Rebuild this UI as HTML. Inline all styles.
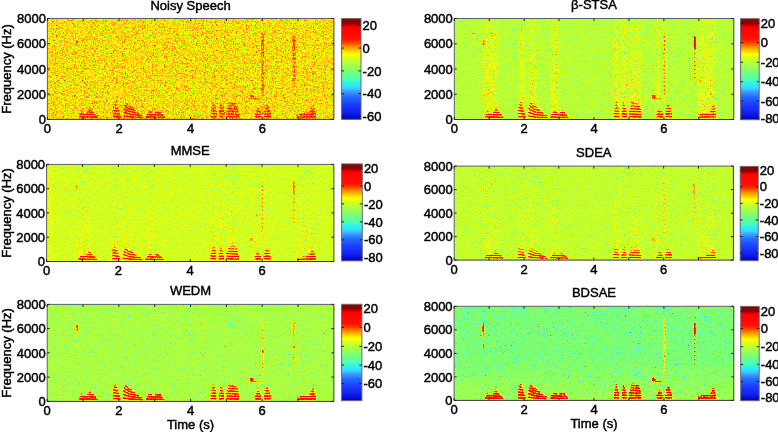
<!DOCTYPE html><html><head><meta charset="utf-8"><title>Spectrograms</title><style>html,body{margin:0;padding:0;background:#fff;}body{width:778px;height:432px;overflow:hidden;}svg{display:block}text{font-family:'Liberation Sans', Arial, Helvetica, sans-serif;font-size:13px;fill:#000;stroke:#000;stroke-width:0.45px}</style></head><body>
<svg width="778" height="432" viewBox="0 0 778 432">
<defs><linearGradient id="cbg" x1="0" y1="0" x2="0" y2="1"><stop offset="0.0" stop-color="rgb(136,0,0)"/><stop offset="0.045" stop-color="rgb(144,0,0)"/><stop offset="0.065" stop-color="rgb(192,0,0)"/><stop offset="0.085" stop-color="rgb(255,0,0)"/><stop offset="0.2" stop-color="rgb(255,16,0)"/><stop offset="0.24" stop-color="rgb(255,64,0)"/><stop offset="0.27" stop-color="rgb(255,128,0)"/><stop offset="0.31" stop-color="rgb(255,192,0)"/><stop offset="0.35" stop-color="rgb(255,255,0)"/><stop offset="0.4" stop-color="rgb(208,255,32)"/><stop offset="0.47" stop-color="rgb(160,255,80)"/><stop offset="0.54" stop-color="rgb(112,255,128)"/><stop offset="0.6" stop-color="rgb(80,255,176)"/><stop offset="0.66" stop-color="rgb(32,240,255)"/><stop offset="0.69" stop-color="rgb(64,208,255)"/><stop offset="0.72" stop-color="rgb(64,160,255)"/><stop offset="0.77" stop-color="rgb(32,112,255)"/><stop offset="0.84" stop-color="rgb(32,64,255)"/><stop offset="0.93" stop-color="rgb(16,32,240)"/><stop offset="1.0" stop-color="rgb(0,0,192)"/></linearGradient><filter id="f0" x="0" y="0" width="1" height="1" color-interpolation-filters="sRGB"><feTurbulence type="fractalNoise" baseFrequency="1.1 0.6" numOctaves="2" seed="3" result="t"/><feColorMatrix in="t" type="matrix" values="1 0 0 0 0 1 0 0 0 0 1 0 0 0 0 0 0 0 0 1" result="n"/><feComponentTransfer in="n" result="n2"><feFuncR type="table" tableValues="0.25 0.75"/><feFuncG type="table" tableValues="0.25 0.75"/><feFuncB type="table" tableValues="0.25 0.75"/></feComponentTransfer><feColorMatrix in="SourceGraphic" type="matrix" values="0 1 0 0 0 0 1 0 0 0 0 1 0 0 0 0 0 0 0 1" result="amp"/><feComposite in="amp" in2="n2" operator="arithmetic" k1="1" k2="-0.5" k3="0" k4="0.5" result="an"/><feColorMatrix in="SourceGraphic" type="matrix" values="1 0 0 0 0 1 0 0 0 0 1 0 0 0 0 0 0 0 0 1" result="lv"/><feComposite in="lv" in2="an" operator="arithmetic" k1="0" k2="1" k3="1.240" k4="-0.720" result="s0"/><feTurbulence type="fractalNoise" baseFrequency="1.4 0.9" numOctaves="1" seed="53" result="t2"/><feColorMatrix in="t2" type="matrix" values="1 0 0 0 0 1 0 0 0 0 1 0 0 0 0 0 0 0 0 1" result="m2"/><feComponentTransfer in="m2" result="sp"><feFuncR type="discrete" tableValues="0 0 0 0 0 0 0 0 0 0 0 0 0 0 0 0 0 0 0 0 0 0 0 0 0 0 0 0 0 0 0 0 0 0 0 0 0 1 1 1 1 1 1 1 1 1 1 1 1 1"/><feFuncG type="discrete" tableValues="0 0 0 0 0 0 0 0 0 0 0 0 0 0 0 0 0 0 0 0 0 0 0 0 0 0 0 0 0 0 0 0 0 0 0 0 0 1 1 1 1 1 1 1 1 1 1 1 1 1"/><feFuncB type="discrete" tableValues="0 0 0 0 0 0 0 0 0 0 0 0 0 0 0 0 0 0 0 0 0 0 0 0 0 0 0 0 0 0 0 0 0 0 0 0 0 1 1 1 1 1 1 1 1 1 1 1 1 1"/></feComponentTransfer><feComposite in="s0" in2="sp" operator="arithmetic" k1="0" k2="1" k3="-0.100" k4="0.100" result="s"/><feComponentTransfer in="s"><feFuncR type="table" tableValues="0 0.018 0.036 0.054 0.07 0.084 0.098 0.112 0.125 0.125 0.125 0.125 0.151 0.201 0.251 0.251 0.209 0.125 0.188 0.251 0.314 0.356 0.397 0.439 0.493 0.547 0.601 0.654 0.708 0.762 0.816 0.889 0.963 1 1 1 1 1 1 1 1 1 1 1 1 1 0.938 0.706 0.561 0.547 0.533"/><feFuncG type="table" tableValues="0 0.036 0.072 0.108 0.139 0.167 0.195 0.223 0.251 0.305 0.359 0.412 0.477 0.552 0.627 0.753 0.858 0.941 0.961 0.98 1 1 1 1 1 1 1 1 1 1 1 1 1 0.938 0.815 0.69 0.565 0.418 0.251 0.157 0.063 0.052 0.041 0.03 0.019 0.008 0 0 0 0 0"/><feFuncB type="table" tableValues="0.753 0.807 0.861 0.914 0.948 0.961 0.974 0.987 1 1 1 1 1 1 1 1 1 1 0.897 0.793 0.69 0.627 0.565 0.502 0.448 0.394 0.341 0.287 0.233 0.179 0.125 0.075 0.025 0 0 0 0 0 0 0 0 0 0 0 0 0 0 0 0 0 0"/></feComponentTransfer><feGaussianBlur stdDeviation="0.35" edgeMode="duplicate"/></filter><filter id="f1" x="0" y="0" width="1" height="1" color-interpolation-filters="sRGB"><feTurbulence type="fractalNoise" baseFrequency="1.1 0.6" numOctaves="2" seed="5" result="t"/><feColorMatrix in="t" type="matrix" values="1 0 0 0 0 1 0 0 0 0 1 0 0 0 0 0 0 0 0 1" result="n"/><feComponentTransfer in="n" result="n2"><feFuncR type="table" tableValues="0.109 0.109 0.140 0.189 0.273 0.338 0.391 0.429 0.458 0.484 0.508 0.531 0.548 0.561 0.576 0.591 0.605 0.619 0.627 0.630 0.633"/><feFuncG type="table" tableValues="0.109 0.109 0.140 0.189 0.273 0.338 0.391 0.429 0.458 0.484 0.508 0.531 0.548 0.561 0.576 0.591 0.605 0.619 0.627 0.630 0.633"/><feFuncB type="table" tableValues="0.109 0.109 0.140 0.189 0.273 0.338 0.391 0.429 0.458 0.484 0.508 0.531 0.548 0.561 0.576 0.591 0.605 0.619 0.627 0.630 0.633"/></feComponentTransfer><feColorMatrix in="SourceGraphic" type="matrix" values="0 1 0 0 0 0 1 0 0 0 0 1 0 0 0 0 0 0 0 1" result="amp"/><feComposite in="amp" in2="n2" operator="arithmetic" k1="1" k2="-0.5" k3="0" k4="0.5" result="an"/><feColorMatrix in="SourceGraphic" type="matrix" values="1 0 0 0 0 1 0 0 0 0 1 0 0 0 0 0 0 0 0 1" result="lv"/><feComposite in="lv" in2="an" operator="arithmetic" k1="0" k2="1" k3="0.880" k4="-0.590" result="s0"/><feTurbulence type="fractalNoise" baseFrequency="1.4 0.9" numOctaves="1" seed="55" result="t2"/><feColorMatrix in="t2" type="matrix" values="1 0 0 0 0 1 0 0 0 0 1 0 0 0 0 0 0 0 0 1" result="m2"/><feComponentTransfer in="m2" result="sp"><feFuncR type="discrete" tableValues="0 0 0 0 0 0 0 0 0 0 0 0 0 0 0 0 0 0 0 0 0 0 0 0 0 0 0 0 0 0 0 0 0 0 0 0 0 0 1 1 1 1 1 1 1 1 1 1 1 1"/><feFuncG type="discrete" tableValues="0 0 0 0 0 0 0 0 0 0 0 0 0 0 0 0 0 0 0 0 0 0 0 0 0 0 0 0 0 0 0 0 0 0 0 0 0 0 1 1 1 1 1 1 1 1 1 1 1 1"/><feFuncB type="discrete" tableValues="0 0 0 0 0 0 0 0 0 0 0 0 0 0 0 0 0 0 0 0 0 0 0 0 0 0 0 0 0 0 0 0 0 0 0 0 0 0 1 1 1 1 1 1 1 1 1 1 1 1"/></feComponentTransfer><feComposite in="s0" in2="sp" operator="arithmetic" k1="0" k2="1" k3="-0.150" k4="0.150" result="s"/><feComponentTransfer in="s"><feFuncR type="table" tableValues="0 0.018 0.036 0.054 0.07 0.084 0.098 0.112 0.125 0.125 0.125 0.125 0.151 0.201 0.251 0.251 0.209 0.125 0.188 0.251 0.314 0.356 0.397 0.439 0.493 0.547 0.601 0.654 0.708 0.762 0.816 0.889 0.963 1 1 1 1 1 1 1 1 1 1 1 1 1 0.938 0.706 0.561 0.547 0.533"/><feFuncG type="table" tableValues="0 0.036 0.072 0.108 0.139 0.167 0.195 0.223 0.251 0.305 0.359 0.412 0.477 0.552 0.627 0.753 0.858 0.941 0.961 0.98 1 1 1 1 1 1 1 1 1 1 1 1 1 0.938 0.815 0.69 0.565 0.418 0.251 0.157 0.063 0.052 0.041 0.03 0.019 0.008 0 0 0 0 0"/><feFuncB type="table" tableValues="0.753 0.807 0.861 0.914 0.948 0.961 0.974 0.987 1 1 1 1 1 1 1 1 1 1 0.897 0.793 0.69 0.627 0.565 0.502 0.448 0.394 0.341 0.287 0.233 0.179 0.125 0.075 0.025 0 0 0 0 0 0 0 0 0 0 0 0 0 0 0 0 0 0"/></feComponentTransfer><feGaussianBlur stdDeviation="0.35" edgeMode="duplicate"/></filter><filter id="f2" x="0" y="0" width="1" height="1" color-interpolation-filters="sRGB"><feTurbulence type="fractalNoise" baseFrequency="1.1 0.6" numOctaves="2" seed="7" result="t"/><feColorMatrix in="t" type="matrix" values="1 0 0 0 0 1 0 0 0 0 1 0 0 0 0 0 0 0 0 1" result="n"/><feComponentTransfer in="n" result="n2"><feFuncR type="table" tableValues="0.109 0.109 0.140 0.189 0.273 0.338 0.391 0.429 0.458 0.484 0.508 0.531 0.548 0.561 0.576 0.591 0.605 0.619 0.627 0.630 0.633"/><feFuncG type="table" tableValues="0.109 0.109 0.140 0.189 0.273 0.338 0.391 0.429 0.458 0.484 0.508 0.531 0.548 0.561 0.576 0.591 0.605 0.619 0.627 0.630 0.633"/><feFuncB type="table" tableValues="0.109 0.109 0.140 0.189 0.273 0.338 0.391 0.429 0.458 0.484 0.508 0.531 0.548 0.561 0.576 0.591 0.605 0.619 0.627 0.630 0.633"/></feComponentTransfer><feColorMatrix in="SourceGraphic" type="matrix" values="0 1 0 0 0 0 1 0 0 0 0 1 0 0 0 0 0 0 0 1" result="amp"/><feComposite in="amp" in2="n2" operator="arithmetic" k1="1" k2="-0.5" k3="0" k4="0.5" result="an"/><feColorMatrix in="SourceGraphic" type="matrix" values="1 0 0 0 0 1 0 0 0 0 1 0 0 0 0 0 0 0 0 1" result="lv"/><feComposite in="lv" in2="an" operator="arithmetic" k1="0" k2="1" k3="0.800" k4="-0.520" result="s0"/><feTurbulence type="fractalNoise" baseFrequency="1.4 0.9" numOctaves="1" seed="57" result="t2"/><feColorMatrix in="t2" type="matrix" values="1 0 0 0 0 1 0 0 0 0 1 0 0 0 0 0 0 0 0 1" result="m2"/><feComponentTransfer in="m2" result="sp"><feFuncR type="discrete" tableValues="0 0 0 0 0 0 0 0 0 0 0 0 0 0 0 0 0 0 0 0 0 0 0 0 0 0 0 0 0 0 0 0 0 0 0 0 0 0 0 1 1 1 1 1 1 1 1 1 1 1"/><feFuncG type="discrete" tableValues="0 0 0 0 0 0 0 0 0 0 0 0 0 0 0 0 0 0 0 0 0 0 0 0 0 0 0 0 0 0 0 0 0 0 0 0 0 0 0 1 1 1 1 1 1 1 1 1 1 1"/><feFuncB type="discrete" tableValues="0 0 0 0 0 0 0 0 0 0 0 0 0 0 0 0 0 0 0 0 0 0 0 0 0 0 0 0 0 0 0 0 0 0 0 0 0 0 0 1 1 1 1 1 1 1 1 1 1 1"/></feComponentTransfer><feComposite in="s0" in2="sp" operator="arithmetic" k1="0" k2="1" k3="-0.120" k4="0.120" result="s"/><feComponentTransfer in="s"><feFuncR type="table" tableValues="0 0.018 0.036 0.054 0.07 0.084 0.098 0.112 0.125 0.125 0.125 0.125 0.151 0.201 0.251 0.251 0.209 0.125 0.188 0.251 0.314 0.356 0.397 0.439 0.493 0.547 0.601 0.654 0.708 0.762 0.816 0.889 0.963 1 1 1 1 1 1 1 1 1 1 1 1 1 0.938 0.706 0.561 0.547 0.533"/><feFuncG type="table" tableValues="0 0.036 0.072 0.108 0.139 0.167 0.195 0.223 0.251 0.305 0.359 0.412 0.477 0.552 0.627 0.753 0.858 0.941 0.961 0.98 1 1 1 1 1 1 1 1 1 1 1 1 1 0.938 0.815 0.69 0.565 0.418 0.251 0.157 0.063 0.052 0.041 0.03 0.019 0.008 0 0 0 0 0"/><feFuncB type="table" tableValues="0.753 0.807 0.861 0.914 0.948 0.961 0.974 0.987 1 1 1 1 1 1 1 1 1 1 0.897 0.793 0.69 0.627 0.565 0.502 0.448 0.394 0.341 0.287 0.233 0.179 0.125 0.075 0.025 0 0 0 0 0 0 0 0 0 0 0 0 0 0 0 0 0 0"/></feComponentTransfer><feGaussianBlur stdDeviation="0.35" edgeMode="duplicate"/></filter><filter id="f3" x="0" y="0" width="1" height="1" color-interpolation-filters="sRGB"><feTurbulence type="fractalNoise" baseFrequency="1.1 0.6" numOctaves="2" seed="11" result="t"/><feColorMatrix in="t" type="matrix" values="1 0 0 0 0 1 0 0 0 0 1 0 0 0 0 0 0 0 0 1" result="n"/><feComponentTransfer in="n" result="n2"><feFuncR type="table" tableValues="0.109 0.109 0.140 0.189 0.273 0.338 0.391 0.429 0.458 0.484 0.508 0.531 0.548 0.561 0.576 0.591 0.605 0.619 0.627 0.630 0.633"/><feFuncG type="table" tableValues="0.109 0.109 0.140 0.189 0.273 0.338 0.391 0.429 0.458 0.484 0.508 0.531 0.548 0.561 0.576 0.591 0.605 0.619 0.627 0.630 0.633"/><feFuncB type="table" tableValues="0.109 0.109 0.140 0.189 0.273 0.338 0.391 0.429 0.458 0.484 0.508 0.531 0.548 0.561 0.576 0.591 0.605 0.619 0.627 0.630 0.633"/></feComponentTransfer><feColorMatrix in="SourceGraphic" type="matrix" values="0 1 0 0 0 0 1 0 0 0 0 1 0 0 0 0 0 0 0 1" result="amp"/><feComposite in="amp" in2="n2" operator="arithmetic" k1="1" k2="-0.5" k3="0" k4="0.5" result="an"/><feColorMatrix in="SourceGraphic" type="matrix" values="1 0 0 0 0 1 0 0 0 0 1 0 0 0 0 0 0 0 0 1" result="lv"/><feComposite in="lv" in2="an" operator="arithmetic" k1="0" k2="1" k3="0.800" k4="-0.540" result="s0"/><feTurbulence type="fractalNoise" baseFrequency="1.4 0.9" numOctaves="1" seed="61" result="t2"/><feColorMatrix in="t2" type="matrix" values="1 0 0 0 0 1 0 0 0 0 1 0 0 0 0 0 0 0 0 1" result="m2"/><feComponentTransfer in="m2" result="sp"><feFuncR type="discrete" tableValues="0 0 0 0 0 0 0 0 0 0 0 0 0 0 0 0 0 0 0 0 0 0 0 0 0 0 0 0 0 0 0 0 0 0 0 0 0 0 1 1 1 1 1 1 1 1 1 1 1 1"/><feFuncG type="discrete" tableValues="0 0 0 0 0 0 0 0 0 0 0 0 0 0 0 0 0 0 0 0 0 0 0 0 0 0 0 0 0 0 0 0 0 0 0 0 0 0 1 1 1 1 1 1 1 1 1 1 1 1"/><feFuncB type="discrete" tableValues="0 0 0 0 0 0 0 0 0 0 0 0 0 0 0 0 0 0 0 0 0 0 0 0 0 0 0 0 0 0 0 0 0 0 0 0 0 0 1 1 1 1 1 1 1 1 1 1 1 1"/></feComponentTransfer><feComposite in="s0" in2="sp" operator="arithmetic" k1="0" k2="1" k3="-0.140" k4="0.140" result="s"/><feComponentTransfer in="s"><feFuncR type="table" tableValues="0 0.018 0.036 0.054 0.07 0.084 0.098 0.112 0.125 0.125 0.125 0.125 0.151 0.201 0.251 0.251 0.209 0.125 0.188 0.251 0.314 0.356 0.397 0.439 0.493 0.547 0.601 0.654 0.708 0.762 0.816 0.889 0.963 1 1 1 1 1 1 1 1 1 1 1 1 1 0.938 0.706 0.561 0.547 0.533"/><feFuncG type="table" tableValues="0 0.036 0.072 0.108 0.139 0.167 0.195 0.223 0.251 0.305 0.359 0.412 0.477 0.552 0.627 0.753 0.858 0.941 0.961 0.98 1 1 1 1 1 1 1 1 1 1 1 1 1 0.938 0.815 0.69 0.565 0.418 0.251 0.157 0.063 0.052 0.041 0.03 0.019 0.008 0 0 0 0 0"/><feFuncB type="table" tableValues="0.753 0.807 0.861 0.914 0.948 0.961 0.974 0.987 1 1 1 1 1 1 1 1 1 1 0.897 0.793 0.69 0.627 0.565 0.502 0.448 0.394 0.341 0.287 0.233 0.179 0.125 0.075 0.025 0 0 0 0 0 0 0 0 0 0 0 0 0 0 0 0 0 0"/></feComponentTransfer><feGaussianBlur stdDeviation="0.35" edgeMode="duplicate"/></filter><filter id="f4" x="0" y="0" width="1" height="1" color-interpolation-filters="sRGB"><feTurbulence type="fractalNoise" baseFrequency="1.1 0.6" numOctaves="2" seed="13" result="t"/><feColorMatrix in="t" type="matrix" values="1 0 0 0 0 1 0 0 0 0 1 0 0 0 0 0 0 0 0 1" result="n"/><feComponentTransfer in="n" result="n2"><feFuncR type="table" tableValues="0.109 0.109 0.140 0.189 0.273 0.338 0.391 0.429 0.458 0.484 0.508 0.531 0.548 0.561 0.576 0.591 0.605 0.619 0.627 0.630 0.633"/><feFuncG type="table" tableValues="0.109 0.109 0.140 0.189 0.273 0.338 0.391 0.429 0.458 0.484 0.508 0.531 0.548 0.561 0.576 0.591 0.605 0.619 0.627 0.630 0.633"/><feFuncB type="table" tableValues="0.109 0.109 0.140 0.189 0.273 0.338 0.391 0.429 0.458 0.484 0.508 0.531 0.548 0.561 0.576 0.591 0.605 0.619 0.627 0.630 0.633"/></feComponentTransfer><feColorMatrix in="SourceGraphic" type="matrix" values="0 1 0 0 0 0 1 0 0 0 0 1 0 0 0 0 0 0 0 1" result="amp"/><feComposite in="amp" in2="n2" operator="arithmetic" k1="1" k2="-0.5" k3="0" k4="0.5" result="an"/><feColorMatrix in="SourceGraphic" type="matrix" values="1 0 0 0 0 1 0 0 0 0 1 0 0 0 0 0 0 0 0 1" result="lv"/><feComposite in="lv" in2="an" operator="arithmetic" k1="0" k2="1" k3="0.880" k4="-0.640" result="s0"/><feTurbulence type="fractalNoise" baseFrequency="1.4 0.9" numOctaves="1" seed="63" result="t2"/><feColorMatrix in="t2" type="matrix" values="1 0 0 0 0 1 0 0 0 0 1 0 0 0 0 0 0 0 0 1" result="m2"/><feComponentTransfer in="m2" result="sp"><feFuncR type="discrete" tableValues="0 0 0 0 0 0 0 0 0 0 0 0 0 0 0 0 0 0 0 0 0 0 0 0 0 0 0 0 0 0 0 0 0 0 0 0 0 0 1 1 1 1 1 1 1 1 1 1 1 1"/><feFuncG type="discrete" tableValues="0 0 0 0 0 0 0 0 0 0 0 0 0 0 0 0 0 0 0 0 0 0 0 0 0 0 0 0 0 0 0 0 0 0 0 0 0 0 1 1 1 1 1 1 1 1 1 1 1 1"/><feFuncB type="discrete" tableValues="0 0 0 0 0 0 0 0 0 0 0 0 0 0 0 0 0 0 0 0 0 0 0 0 0 0 0 0 0 0 0 0 0 0 0 0 0 0 1 1 1 1 1 1 1 1 1 1 1 1"/></feComponentTransfer><feComposite in="s0" in2="sp" operator="arithmetic" k1="0" k2="1" k3="-0.200" k4="0.200" result="s"/><feComponentTransfer in="s"><feFuncR type="table" tableValues="0 0.018 0.036 0.054 0.07 0.084 0.098 0.112 0.125 0.125 0.125 0.125 0.151 0.201 0.251 0.251 0.209 0.125 0.188 0.251 0.314 0.356 0.397 0.439 0.493 0.547 0.601 0.654 0.708 0.762 0.816 0.889 0.963 1 1 1 1 1 1 1 1 1 1 1 1 1 0.938 0.706 0.561 0.547 0.533"/><feFuncG type="table" tableValues="0 0.036 0.072 0.108 0.139 0.167 0.195 0.223 0.251 0.305 0.359 0.412 0.477 0.552 0.627 0.753 0.858 0.941 0.961 0.98 1 1 1 1 1 1 1 1 1 1 1 1 1 0.938 0.815 0.69 0.565 0.418 0.251 0.157 0.063 0.052 0.041 0.03 0.019 0.008 0 0 0 0 0"/><feFuncB type="table" tableValues="0.753 0.807 0.861 0.914 0.948 0.961 0.974 0.987 1 1 1 1 1 1 1 1 1 1 0.897 0.793 0.69 0.627 0.565 0.502 0.448 0.394 0.341 0.287 0.233 0.179 0.125 0.075 0.025 0 0 0 0 0 0 0 0 0 0 0 0 0 0 0 0 0 0"/></feComponentTransfer><feGaussianBlur stdDeviation="0.35" edgeMode="duplicate"/></filter><filter id="f5" x="0" y="0" width="1" height="1" color-interpolation-filters="sRGB"><feTurbulence type="fractalNoise" baseFrequency="1.1 0.6" numOctaves="2" seed="17" result="t"/><feColorMatrix in="t" type="matrix" values="1 0 0 0 0 1 0 0 0 0 1 0 0 0 0 0 0 0 0 1" result="n"/><feComponentTransfer in="n" result="n2"><feFuncR type="table" tableValues="0.109 0.109 0.140 0.189 0.273 0.338 0.391 0.429 0.458 0.484 0.508 0.531 0.548 0.561 0.576 0.591 0.605 0.619 0.627 0.630 0.633"/><feFuncG type="table" tableValues="0.109 0.109 0.140 0.189 0.273 0.338 0.391 0.429 0.458 0.484 0.508 0.531 0.548 0.561 0.576 0.591 0.605 0.619 0.627 0.630 0.633"/><feFuncB type="table" tableValues="0.109 0.109 0.140 0.189 0.273 0.338 0.391 0.429 0.458 0.484 0.508 0.531 0.548 0.561 0.576 0.591 0.605 0.619 0.627 0.630 0.633"/></feComponentTransfer><feColorMatrix in="SourceGraphic" type="matrix" values="0 1 0 0 0 0 1 0 0 0 0 1 0 0 0 0 0 0 0 1" result="amp"/><feComposite in="amp" in2="n2" operator="arithmetic" k1="1" k2="-0.5" k3="0" k4="0.5" result="an"/><feColorMatrix in="SourceGraphic" type="matrix" values="1 0 0 0 0 1 0 0 0 0 1 0 0 0 0 0 0 0 0 1" result="lv"/><feComposite in="lv" in2="an" operator="arithmetic" k1="0" k2="1" k3="1.080" k4="-0.720" result="s0"/><feTurbulence type="fractalNoise" baseFrequency="1.4 0.9" numOctaves="1" seed="67" result="t2"/><feColorMatrix in="t2" type="matrix" values="1 0 0 0 0 1 0 0 0 0 1 0 0 0 0 0 0 0 0 1" result="m2"/><feComponentTransfer in="m2" result="sp"><feFuncR type="discrete" tableValues="0 0 0 0 0 0 0 0 0 0 0 0 0 0 0 0 0 0 0 0 0 0 0 0 0 0 0 0 0 0 0 0 0 0 0 0 0 1 1 1 1 1 1 1 1 1 1 1 1 1"/><feFuncG type="discrete" tableValues="0 0 0 0 0 0 0 0 0 0 0 0 0 0 0 0 0 0 0 0 0 0 0 0 0 0 0 0 0 0 0 0 0 0 0 0 0 1 1 1 1 1 1 1 1 1 1 1 1 1"/><feFuncB type="discrete" tableValues="0 0 0 0 0 0 0 0 0 0 0 0 0 0 0 0 0 0 0 0 0 0 0 0 0 0 0 0 0 0 0 0 0 0 0 0 0 1 1 1 1 1 1 1 1 1 1 1 1 1"/></feComponentTransfer><feComposite in="s0" in2="sp" operator="arithmetic" k1="0" k2="1" k3="-0.180" k4="0.180" result="s"/><feComponentTransfer in="s"><feFuncR type="table" tableValues="0 0.018 0.036 0.054 0.07 0.084 0.098 0.112 0.125 0.125 0.125 0.125 0.151 0.201 0.251 0.251 0.209 0.125 0.188 0.251 0.314 0.356 0.397 0.439 0.493 0.547 0.601 0.654 0.708 0.762 0.816 0.889 0.963 1 1 1 1 1 1 1 1 1 1 1 1 1 0.938 0.706 0.561 0.547 0.533"/><feFuncG type="table" tableValues="0 0.036 0.072 0.108 0.139 0.167 0.195 0.223 0.251 0.305 0.359 0.412 0.477 0.552 0.627 0.753 0.858 0.941 0.961 0.98 1 1 1 1 1 1 1 1 1 1 1 1 1 0.938 0.815 0.69 0.565 0.418 0.251 0.157 0.063 0.052 0.041 0.03 0.019 0.008 0 0 0 0 0"/><feFuncB type="table" tableValues="0.753 0.807 0.861 0.914 0.948 0.961 0.974 0.987 1 1 1 1 1 1 1 1 1 1 0.897 0.793 0.69 0.627 0.565 0.502 0.448 0.394 0.341 0.287 0.233 0.179 0.125 0.075 0.025 0 0 0 0 0 0 0 0 0 0 0 0 0 0 0 0 0 0"/></feComponentTransfer><feGaussianBlur stdDeviation="0.35" edgeMode="duplicate"/></filter><filter id="bl" x="-20%" y="-20%" width="140%" height="140%"><feGaussianBlur stdDeviation="0.25"/></filter><filter id="bb" x="-20%" y="0" width="140%" height="100%"><feGaussianBlur stdDeviation="0.9 0"/></filter></defs>
<svg x="47.4" y="18.5" width="286.5" height="100.9" viewBox="47.4 18.5 286.5 100.9" overflow="hidden">
<g filter="url(#f0)"><rect x="47.4" y="18.5" width="286.5" height="100.9" fill="#a98000"/>
<path d="M77.3 36.2V51.9" stroke="#a18000" stroke-width="1.7"/>
<path d="M77.3 39.9V45.6" stroke="#ba8000" stroke-width="2.0"/>
<path d="M77.3 58.9V63.3" stroke="#9c8000" stroke-width="1.5"/>
<path d="M262.6 31.1V91.7" stroke="#b68000" stroke-width="3.0"/>
<path d="M262.6 36.2V94.2" stroke="#bf8000" stroke-width="2.0" stroke-dasharray="2 2"/>
<path d="M293.8 36.2V48.8" stroke="#c18000" stroke-width="2.6"/>
<path d="M293.8 48.8V81.6" stroke="#bf8000" stroke-width="2.6" stroke-dasharray="3 1.2"/>
<ellipse cx="251.8" cy="96.8" rx="2.1" ry="2.3" fill="#bf8000"/>
<ellipse cx="251.5" cy="96.2" rx="1.1" ry="1.1" fill="#c78000"/>
<path d="M252.8 98.8L259.3 99" stroke="#ba8000" stroke-width="1.4"/>
<g filter="url(#bl)">
<path d="M78.9 119.4L78.9 115.9L79.7 114.4L80.6 112.9L81.4 111.3L82.2 112L83 112.8L83.9 113.5L84.7 113.4L85.5 113.3L86.3 113.1L87.2 112.3L88 110.8L88.8 109.3L89.6 107.8L90.5 108.8L91.3 109.9L92.1 111L92.9 112.1L93.8 112.9L94.6 113.6L95.4 114.3L96.2 115.1L97.1 115.8L97.9 116.5L97.9 119.4Z" fill="#b28000"/>
<path d="M78.9 116.8L79.7 116.7L80.6 116.7L81.4 116.9L82.2 116.9L83 116.8L83.9 116.8L84.7 117L85.5 117L86.3 116.9L87.2 116.9L88 117L88.8 117L89.6 116.9L90.5 117L91.3 117.1L92.1 117L92.9 117L93.8 117.1L94.6 117.2L95.4 117.1L96.2 117L97.1 117.1L97.9 117.2" fill="none" stroke="#e08000" stroke-width="1.0" opacity="1.00"/>
<path d="M79.7 114L80.6 114.2L81.4 114.4L82.2 114.3L83 114.2L83.9 114.4L84.7 114.6L85.5 114.4L86.3 114.3L87.2 114.6L88 114.7L88.8 114.5L89.6 114.4L90.5 114.7L91.3 114.8L92.1 114.6L92.9 114.6L93.8 114.8L94.6 114.9L95.4 114.7L96.2 114.7" fill="none" stroke="#e08000" stroke-width="1.0" opacity="1.00"/>
<path d="M81.4 111.9L82.2 111.5M87.2 112.3L88 112.2L88.8 111.9L89.6 112.1L90.5 112.5L91.3 112.3L92.1 112.1L92.9 112.3L93.8 112.6" fill="none" stroke="#e08000" stroke-width="1.0" opacity="0.88"/>
<path d="M88.8 109.4L89.6 109.9L90.5 110.1L91.3 109.7" fill="none" stroke="#e08000" stroke-width="1.0" opacity="0.76"/>
<path d="M89.6 107.7L90.5 107.6" fill="none" stroke="#e08000" stroke-width="1.0" opacity="0.64"/>
<path d="M112.9 119.4L112.9 106.6L113.8 103.7L114.7 101.9L115.6 102.2L116.4 102.5L117.3 104.9L118.2 107.5L119.1 110.1L119.9 112.7L120.8 115.3L120.8 119.4Z" fill="#b28000"/>
<path d="M112.9 116.3L113.8 116.5L114.7 116.5L115.6 116.4L116.4 116.6L117.3 116.7L118.2 116.6L119.1 116.6L119.9 116.8L120.8 116.8" fill="none" stroke="#e08000" stroke-width="1.0" opacity="1.00"/>
<path d="M112.9 113.4L113.8 113.6L114.7 113.4L115.6 113.5L116.4 113.8L117.3 113.9L118.2 113.7L119.1 113.9L119.9 114.2" fill="none" stroke="#e08000" stroke-width="1.0" opacity="1.00"/>
<path d="M112.9 110.6L113.8 110.6L114.7 110.3L115.6 110.7L116.4 111.1L117.3 110.9L118.2 110.8L119.1 111.3" fill="none" stroke="#e08000" stroke-width="1.0" opacity="0.88"/>
<path d="M112.9 107.7L113.8 107.3L114.7 107.3L115.6 108L116.4 108.3L117.3 107.8L118.2 108.1" fill="none" stroke="#e08000" stroke-width="1.0" opacity="0.76"/>
<path d="M113.8 104L114.7 104.5L115.6 105.4L116.4 105.2L117.3 104.8" fill="none" stroke="#e08000" stroke-width="1.0" opacity="0.64"/>
<path d="M114.7 101.9L115.6 102.6L116.4 101.9" fill="none" stroke="#e08000" stroke-width="1.0" opacity="0.52"/>
<path d="M123.3 119.4L123.3 109L124.1 106L125 103.1L125.8 103.3L126.6 104.1L127.4 105L128.2 105.8L129.1 106.6L129.9 106.8L130.7 106.9L131.5 107L132.4 107.7L133.2 108.7L134 109.8L134.8 110.9L135.6 111.6L136.5 112.1L137.3 112.7L138.1 113.2L138.9 113.8L139.7 114.3L140.6 114.9L141.4 115.4L142.2 116L143 116.5L143 119.4Z" fill="#b28000"/>
<path d="M123.3 115.9L124.1 115.9L125 115.9L125.8 116.1L126.6 116.4L127.4 116.5L128.2 116.5L129.1 116.7L129.9 117L130.7 116.9L131.5 116.9L132.4 117L133.2 117.1L134 117.1L134.8 117L135.6 117.1L136.5 117.3L137.3 117.2L138.1 117.2L138.9 117.3L139.7 117.4L140.6 117.4L141.4 117.4L142.2 117.5L143 117.6" fill="none" stroke="#e08000" stroke-width="1.0" opacity="1.00"/>
<path d="M123.3 112.3L124.1 112.3L125 112.4L125.8 113L126.6 113.4L127.4 113.5L128.2 113.6L129.1 114.2L129.9 114.5L130.7 114.4L131.5 114.4L132.4 114.7L133.2 114.8L134 114.7L134.8 114.7L135.6 115L136.5 115.1L137.3 115L138.1 115L138.9 115.3L139.7 115.4L140.6 115.3L141.4 115.4L142.2 115.6" fill="none" stroke="#e08000" stroke-width="1.0" opacity="1.00"/>
<path d="M123.3 108.7L124.1 108.6L125 109.1L125.8 110L126.6 110.3L127.4 110.3L128.2 110.9L129.1 111.7L129.9 112L130.7 111.7L131.5 112L132.4 112.4L133.2 112.4L134 112.2L134.8 112.5L135.6 112.9L136.5 112.8L137.3 112.7L138.1 113L138.9 113.4" fill="none" stroke="#e08000" stroke-width="1.0" opacity="0.88"/>
<path d="M124.1 104.9L125 106L125.8 107L126.6 107L127.4 107.3L128.2 108.3L129.1 109.2L129.9 109.2L130.7 109.2L131.5 109.7L132.4 110.1L133.2 109.8L134 109.8L134.8 110.4L135.6 110.7" fill="none" stroke="#e08000" stroke-width="1.0" opacity="0.76"/>
<path d="M125 103L125.8 103.7L126.6 103.6L127.4 104.4L128.2 105.8L129.1 106.5L129.9 106.5L130.7 106.8L131.5 107.6L132.4 107.6" fill="none" stroke="#e08000" stroke-width="1.0" opacity="0.64"/>
<path d="M145.9 119.4L145.9 115.9L146.7 115L147.5 114L148.3 113.1L149.1 112.1L149.9 111.3L150.7 111.8L151.6 112.2L152.4 112.6L153.2 113.1L154 113.5L154.8 113.2L155.6 112.7L156.4 112.2L157.2 111.8L158 111.3L158.8 111.4L159.6 112.1L160.5 112.9L161.3 113.6L162.1 114.3L162.9 115L163.7 115.8L164.5 116.5L164.5 119.4Z" fill="#b28000"/>
<path d="M145.9 117L146.7 116.9L147.5 116.8L148.3 116.9L149.1 117L149.9 117L150.7 116.9L151.6 117L152.4 117.1L153.2 117.1L154 117L154.8 117L155.6 117.1L156.4 117.1L157.2 117L158 117.1L158.8 117.2L159.6 117.2L160.5 117.1L161.3 117.2L162.1 117.3L162.9 117.2L163.7 117.2L164.5 117.2" fill="none" stroke="#e08000" stroke-width="1.0" opacity="1.00"/>
<path d="M146.7 114.4L147.5 114.2L148.3 114.5L149.1 114.7L149.9 114.5L150.7 114.4L151.6 114.6L152.4 114.8L153.2 114.6L154 114.5L154.8 114.8L155.6 114.9L156.4 114.7L157.2 114.7L158 114.9L158.8 115L159.6 114.9L160.5 114.8L161.3 115L162.1 115.2L162.9 115" fill="none" stroke="#e08000" stroke-width="1.0" opacity="1.00"/>
<path d="M148.3 112.2L149.1 112.2L149.9 111.9L150.7 112L151.6 112.4L152.4 112.4M154.8 112.6L155.6 112.6L156.4 112.3L157.2 112.4L158 112.8L158.8 112.8L159.6 112.5L160.5 112.6L161.3 113" fill="none" stroke="#e08000" stroke-width="1.0" opacity="0.88"/>
<path d="M210.7 119.4L210.7 112.4L211.5 107.8L212.3 104L213.2 102.7L214 103.5L214.8 104.9L215.6 108.1L216.4 111.3L216.4 119.4Z" fill="#b28000"/>
<path d="M210.7 116.6L211.5 116.5L212.3 116.4L213.2 116.6L214 116.7L214.8 116.6L215.6 116.5L216.4 116.7" fill="none" stroke="#e08000" stroke-width="1.0" opacity="1.00"/>
<path d="M210.7 113.7L211.5 113.5L212.3 113.5L213.2 113.9L214 113.9L214.8 113.6L215.6 113.7L216.4 114" fill="none" stroke="#e08000" stroke-width="1.0" opacity="1.00"/>
<path d="M211.5 110.4L212.3 110.8L213.2 111.2L214 110.9L214.8 110.7L215.6 111.1L216.4 111.4" fill="none" stroke="#e08000" stroke-width="1.0" opacity="0.88"/>
<path d="M211.5 107.6L212.3 108.2L213.2 108.3L214 107.8L214.8 107.9L215.6 108.5" fill="none" stroke="#e08000" stroke-width="1.0" opacity="0.76"/>
<path d="M212.3 105.6L213.2 105.2L214 104.8L214.8 105.3" fill="none" stroke="#e08000" stroke-width="1.0" opacity="0.64"/>
<path d="M212.3 102.7L213.2 102L214 101.9" fill="none" stroke="#e08000" stroke-width="1.0" opacity="0.52"/>
<path d="M218.9 119.4L218.9 111.3L219.8 106L220.7 104L221.6 103.4L222.5 104.5L223.4 107.3L224.3 111.3L224.3 119.4Z" fill="#b28000"/>
<path d="M218.9 116.5L219.8 116.7L220.7 116.7L221.6 116.5L222.5 116.6L223.4 116.7L224.3 116.6" fill="none" stroke="#e08000" stroke-width="1.0" opacity="1.00"/>
<path d="M218.9 113.8L219.8 114L220.7 113.8L221.6 113.7L222.5 113.9L223.4 114L224.3 113.7" fill="none" stroke="#e08000" stroke-width="1.0" opacity="1.00"/>
<path d="M218.9 111.2L219.8 111.3L220.7 110.9L221.6 110.9L222.5 111.3L223.4 111.2L224.3 110.8" fill="none" stroke="#e08000" stroke-width="1.0" opacity="0.88"/>
<path d="M219.8 108.4L220.7 107.9L221.6 108.3L222.5 108.7L223.4 108.2" fill="none" stroke="#e08000" stroke-width="1.0" opacity="0.76"/>
<path d="M219.8 105.4L220.7 105.1L221.6 105.8L222.5 105.8" fill="none" stroke="#e08000" stroke-width="1.0" opacity="0.64"/>
<path d="M220.7 102.6L221.6 103.3" fill="none" stroke="#e08000" stroke-width="1.0" opacity="0.52"/>
<path d="M226.5 119.4L226.5 111.3L227.3 108.1L228.1 105L228.9 103.9L229.7 103.3L230.5 102.8L231.3 102.6L232.1 102.7L232.9 102.8L233.7 102.9L234.5 103L235.3 103.1L236.1 104.1L236.9 105.3L237.7 106.4L238.5 109.7L239.4 113.6L239.4 119.4Z" fill="#b28000"/>
<path d="M226.5 116.7L227.3 116.7L228.1 116.6L228.9 116.6L229.7 116.8L230.5 116.8L231.3 116.6L232.1 116.7L232.9 116.8L233.7 116.8L234.5 116.7L235.3 116.8L236.1 116.9L236.9 116.9L237.7 116.8L238.5 116.8L239.4 117" fill="none" stroke="#e08000" stroke-width="1.0" opacity="1.00"/>
<path d="M226.5 114L227.3 113.8L228.1 113.7L228.9 114L229.7 114.2L230.5 114L231.3 113.9L232.1 114.1L232.9 114.3L233.7 114.1L234.5 114L235.3 114.2L236.1 114.4L236.9 114.2L237.7 114.1L238.5 114.4L239.4 114.5" fill="none" stroke="#e08000" stroke-width="1.0" opacity="1.00"/>
<path d="M226.5 111.3L227.3 110.9L228.1 111L228.9 111.4L229.7 111.4L230.5 111.1L231.3 111.2L232.1 111.6L232.9 111.6L233.7 111.3L234.5 111.4L235.3 111.8L236.1 111.8L236.9 111.5L237.7 111.6L238.5 112" fill="none" stroke="#e08000" stroke-width="1.0" opacity="0.88"/>
<path d="M227.3 108L228.1 108.4L228.9 108.9L229.7 108.6L230.5 108.2L231.3 108.7L232.1 109.1L232.9 108.8L233.7 108.5L234.5 108.9L235.3 109.4L236.1 109.1L236.9 108.8L237.7 109.2L238.5 109.6" fill="none" stroke="#e08000" stroke-width="1.0" opacity="0.76"/>
<path d="M228.1 106L228.9 106.1L229.7 105.5L230.5 105.6L231.3 106.3L232.1 106.4L232.9 105.9L233.7 105.9L234.5 106.6L235.3 106.7L236.1 106.2L236.9 106.2L237.7 106.9" fill="none" stroke="#e08000" stroke-width="1.0" opacity="0.64"/>
<path d="M228.1 103.5L228.9 103.1L229.7 102.6L230.5 103.1L231.3 103.9L232.1 103.5L232.9 103L233.7 103.5L234.5 104.2L235.3 103.9L236.1 103.4L236.9 103.9" fill="none" stroke="#e08000" stroke-width="1.0" opacity="0.52"/>
<path d="M233.7 101.3L234.5 101.6" fill="none" stroke="#e08000" stroke-width="1.0" opacity="0.40"/>
<path d="M254.8 119.4L254.8 114.2L255.6 112.4L256.4 110.6L257.2 108.8L258 108.4L258.8 109.7L259.6 111L260.4 112.3L261.2 113.6L261.2 119.4Z" fill="#b28000"/>
<path d="M254.8 116.7L255.6 116.8L256.4 116.8L257.2 116.7L258 116.7L258.8 116.8L259.6 116.8L260.4 116.7L261.2 116.7" fill="none" stroke="#e08000" stroke-width="1.0" opacity="1.00"/>
<path d="M254.8 114.2L255.6 114.3L256.4 114L257.2 113.9L258 114.2L258.8 114.3L259.6 114L260.4 113.9L261.2 114.2" fill="none" stroke="#e08000" stroke-width="1.0" opacity="1.00"/>
<path d="M255.6 111.6L256.4 111.2L257.2 111.3L258 111.7L258.8 111.6L259.6 111.2L260.4 111.3" fill="none" stroke="#e08000" stroke-width="1.0" opacity="0.88"/>
<path d="M257.2 108.9L258 109.2L258.8 108.7" fill="none" stroke="#e08000" stroke-width="1.0" opacity="0.76"/>
<path d="M263.7 119.4L263.7 112.4L264.6 109.2L265.5 106.1L266.4 105L267.3 104.7L268.2 105.7L269.1 106.6L270 110.1L270.9 113.6L270.9 119.4Z" fill="#b28000"/>
<path d="M263.7 116.5L264.6 116.6L265.5 116.7L266.4 116.6L267.3 116.5L268.2 116.7L269.1 116.7L270 116.5L270.9 116.6" fill="none" stroke="#e08000" stroke-width="1.0" opacity="1.00"/>
<path d="M263.7 113.7L264.6 114L265.5 114L266.4 113.7L267.3 113.8L268.2 114L269.1 113.8L270 113.7L270.9 113.9" fill="none" stroke="#e08000" stroke-width="1.0" opacity="1.00"/>
<path d="M264.6 111.4L265.5 111.1L266.4 110.8L267.3 111.2L268.2 111.3L269.1 110.9L270 110.9" fill="none" stroke="#e08000" stroke-width="1.0" opacity="0.88"/>
<path d="M264.6 108.6L265.5 108L266.4 108.1L267.3 108.6L268.2 108.4L269.1 107.9" fill="none" stroke="#e08000" stroke-width="1.0" opacity="0.76"/>
<path d="M265.5 105L266.4 105.5L267.3 106L268.2 105.4" fill="none" stroke="#e08000" stroke-width="1.0" opacity="0.64"/>
<path d="M297 119.4L297 115.3L297.8 115.3L298.7 115.2L299.5 115.1L300.3 115L301.1 114.9L302 114.9L302.8 114.8L303.6 114.7L304.4 114.6L305.3 114.5L306.1 114.2L306.9 113.8L307.7 113.5L308.6 113.1L309.4 111.9L310.2 110.3L311 108.7L311.9 107.1L312.7 106.2L313.5 106.7L314.3 107.1L315.2 110.2L316 114.2L316 119.4Z" fill="#b28000"/>
<path d="M297 117L297.8 117.1L298.7 116.9L299.5 116.9L300.3 117L301.1 117L302 116.9L302.8 116.9L303.6 117L304.4 117L305.3 116.8L306.1 116.8L306.9 116.9L307.7 116.9L308.6 116.8L309.4 116.8L310.2 116.9L311 116.9L311.9 116.7L312.7 116.8L313.5 116.9L314.3 116.8L315.2 116.7L316 116.7" fill="none" stroke="#e08000" stroke-width="1.0" opacity="1.00"/>
<path d="M297 114.8L297.8 114.7M299.5 114.5L300.3 114.7L301.1 114.6L302 114.3L302.8 114.4L303.6 114.6L304.4 114.4L305.3 114.2L306.1 114.3L306.9 114.5L307.7 114.3L308.6 114.1L309.4 114.3L310.2 114.4L311 114.2L311.9 114L312.7 114.2L313.5 114.3L314.3 114.1L315.2 113.9L316 114.2" fill="none" stroke="#e08000" stroke-width="1.0" opacity="1.00"/>
<path d="M309.4 111.9L310.2 111.9L311 111.5L311.9 111.4L312.7 111.8L313.5 111.7L314.3 111.3L315.2 111.3" fill="none" stroke="#e08000" stroke-width="1.0" opacity="0.88"/>
<path d="M311 108.7L311.9 109L312.7 109.3L313.5 108.9L314.3 108.5" fill="none" stroke="#e08000" stroke-width="1.0" opacity="0.76"/>
<path d="M311.9 106.7L312.7 106.7L313.5 106L314.3 105.9" fill="none" stroke="#e08000" stroke-width="1.0" opacity="0.64"/>
</g>
</g></svg>
<path d="M47.4 119.4V18.5H333.9" fill="none" stroke="#5e5e6c" stroke-width="1"/>
<path d="M333.9 18.5V119.4H47.4" fill="none" stroke="#383838" stroke-width="1"/>
<path d="M47.4 119.4v-2.5M47.4 18.5v2.5M83.2 119.4v-2.5M83.2 18.5v2.5M119 119.4v-2.5M119 18.5v2.5M154.8 119.4v-2.5M154.8 18.5v2.5M190.7 119.4v-2.5M190.7 18.5v2.5M226.5 119.4v-2.5M226.5 18.5v2.5M262.3 119.4v-2.5M262.3 18.5v2.5M298.1 119.4v-2.5M298.1 18.5v2.5M47.4 119.4h2.5M333.9 119.4h-2.5M47.4 94.2h2.5M333.9 94.2h-2.5M47.4 69h2.5M333.9 69h-2.5M47.4 43.7h2.5M333.9 43.7h-2.5M47.4 18.5h2.5M333.9 18.5h-2.5" stroke="#222" stroke-width="1" fill="none"/>
<text x="45.9" y="124" text-anchor="end">0</text>
<text x="45.9" y="98.8" text-anchor="end">2000</text>
<text x="45.9" y="73.5" text-anchor="end">4000</text>
<text x="45.9" y="48.3" text-anchor="end">6000</text>
<text x="45.9" y="23.1" text-anchor="end">8000</text>
<text x="47.4" y="133" text-anchor="middle">0</text>
<text x="119" y="133" text-anchor="middle">2</text>
<text x="190.7" y="133" text-anchor="middle">4</text>
<text x="262.3" y="133" text-anchor="middle">6</text>
<text x="190.6" y="9.6" text-anchor="middle">Noisy Speech</text>
<text transform="translate(11,69) rotate(-90)" text-anchor="middle">Frequency (Hz)</text>
<rect x="341.6" y="18.6" width="19.4" height="100.8" fill="url(#cbg)" stroke="#6a6a72" stroke-width="1"/>
<text x="362.6" y="29.9">20</text>
<text x="362.6" y="52.7">0</text>
<text x="362.6" y="75.5">-20</text>
<text x="362.6" y="98.3">-40</text>
<text x="362.6" y="120.9">-60</text>
<path d="M361 25.3h-2.5M341.6 25.3h2.5M361 48.1h-2.5M341.6 48.1h2.5M361 70.9h-2.5M341.6 70.9h2.5M361 93.7h-2.5M341.6 93.7h2.5M361 116.3h-2.5M341.6 116.3h2.5" stroke="#222" stroke-width="1" fill="none"/>
<svg x="454.3" y="18.5" width="279.5" height="101" viewBox="454.3 18.5 279.5 101" overflow="hidden">
<g filter="url(#f1)"><rect x="454.3" y="18.5" width="279.5" height="101" fill="#918000"/>
<linearGradient id="bg1" x1="0" y1="0" x2="0" y2="1"><stop offset="0" stop-color="#96bf00"/><stop offset="0.7" stop-color="#9cd900"/><stop offset="1" stop-color="#a1f200"/></linearGradient>
<g filter="url(#bb)">
<rect x="482.9" y="18.5" width="15" height="101" fill="url(#bg1)"/>
<rect x="518.9" y="18.5" width="5.9" height="101" fill="url(#bg1)"/>
<rect x="528.4" y="18.5" width="7.7" height="101" fill="url(#bg1)"/>
<rect x="551.1" y="18.5" width="7.3" height="101" fill="url(#bg1)"/>
<rect x="613.3" y="18.5" width="5.9" height="101" fill="url(#bg1)"/>
<rect x="621" y="18.5" width="5.2" height="101" fill="url(#bg1)"/>
<rect x="629" y="18.5" width="11.2" height="101" fill="url(#bg1)"/>
<rect x="655.5" y="18.5" width="4.2" height="101" fill="url(#bg1)"/>
<rect x="698.2" y="18.5" width="16.4" height="101" fill="url(#bg1)"/>
</g>
<path d="M491.7 45.8h1.4v1.8h-1.4zM497.4 113.3h1.4v1.8h-1.4zM490.0 91.2h1.4v1.8h-1.4zM486.2 48.8h1.4v1.8h-1.4zM487.3 93.8h1.4v1.8h-1.4zM486.1 117.2h1.4v1.8h-1.4zM484.0 45.6h1.4v1.8h-1.4zM484.3 100.4h1.4v1.8h-1.4zM488.5 73.9h1.4v1.8h-1.4zM487.8 88.9h1.4v1.8h-1.4zM489.0 47.3h1.4v1.8h-1.4zM489.4 57.5h1.4v1.8h-1.4zM484.6 105.0h1.4v1.8h-1.4zM493.2 91.4h1.4v1.8h-1.4zM496.2 66.5h1.4v1.8h-1.4zM488.6 69.2h1.4v1.8h-1.4zM489.0 91.7h1.4v1.8h-1.4zM483.0 73.2h1.4v1.8h-1.4zM491.0 61.7h1.4v1.8h-1.4zM483.3 94.8h1.4v1.8h-1.4zM483.1 82.4h1.4v1.8h-1.4zM485.3 25.3h1.4v1.8h-1.4zM485.7 29.9h1.4v1.8h-1.4zM485.2 93.1h1.4v1.8h-1.4zM493.9 63.4h1.4v1.8h-1.4zM492.7 74.2h1.4v1.8h-1.4zM490.4 109.3h1.4v1.8h-1.4zM487.6 108.9h1.4v1.8h-1.4zM493.3 93.0h1.4v1.8h-1.4zM483.0 32.4h1.4v1.8h-1.4zM483.4 61.7h1.4v1.8h-1.4zM497.2 109.3h1.4v1.8h-1.4zM495.5 36.9h1.4v1.8h-1.4zM523.1 100.8h1.4v1.8h-1.4zM523.7 102.3h1.4v1.8h-1.4zM519.8 44.0h1.4v1.8h-1.4zM523.6 97.7h1.4v1.8h-1.4zM524.2 71.5h1.4v1.8h-1.4zM524.2 39.4h1.4v1.8h-1.4zM524.6 110.1h1.4v1.8h-1.4zM520.9 30.2h1.4v1.8h-1.4zM522.2 93.5h1.4v1.8h-1.4zM521.0 28.8h1.4v1.8h-1.4zM520.6 105.1h1.4v1.8h-1.4zM519.5 114.4h1.4v1.8h-1.4zM520.4 46.9h1.4v1.8h-1.4zM529.2 118.0h1.4v1.8h-1.4zM535.3 59.0h1.4v1.8h-1.4zM529.1 90.3h1.4v1.8h-1.4zM535.2 21.5h1.4v1.8h-1.4zM533.2 107.7h1.4v1.8h-1.4zM531.9 82.9h1.4v1.8h-1.4zM534.5 50.6h1.4v1.8h-1.4zM530.5 91.0h1.4v1.8h-1.4zM532.6 79.8h1.4v1.8h-1.4zM530.9 114.4h1.4v1.8h-1.4zM530.6 92.6h1.4v1.8h-1.4zM535.2 67.1h1.4v1.8h-1.4zM528.8 48.6h1.4v1.8h-1.4zM528.9 40.4h1.4v1.8h-1.4zM529.3 61.4h1.4v1.8h-1.4zM531.2 71.6h1.4v1.8h-1.4zM533.5 92.4h1.4v1.8h-1.4zM556.1 63.5h1.4v1.8h-1.4zM555.9 81.1h1.4v1.8h-1.4zM552.0 80.7h1.4v1.8h-1.4zM553.4 92.3h1.4v1.8h-1.4zM556.5 50.8h1.4v1.8h-1.4zM554.3 72.3h1.4v1.8h-1.4zM553.3 26.3h1.4v1.8h-1.4zM551.4 118.9h1.4v1.8h-1.4zM556.5 70.8h1.4v1.8h-1.4zM556.0 53.8h1.4v1.8h-1.4zM556.3 115.5h1.4v1.8h-1.4zM556.7 73.3h1.4v1.8h-1.4zM558.3 113.2h1.4v1.8h-1.4zM551.5 68.2h1.4v1.8h-1.4zM554.4 54.4h1.4v1.8h-1.4zM555.6 39.9h1.4v1.8h-1.4zM617.7 107.8h1.4v1.8h-1.4zM613.6 93.7h1.4v1.8h-1.4zM614.8 89.0h1.4v1.8h-1.4zM617.4 117.6h1.4v1.8h-1.4zM618.0 61.0h1.4v1.8h-1.4zM617.6 40.3h1.4v1.8h-1.4zM617.5 68.7h1.4v1.8h-1.4zM614.8 50.6h1.4v1.8h-1.4zM614.6 102.7h1.4v1.8h-1.4zM613.8 49.9h1.4v1.8h-1.4zM614.4 41.6h1.4v1.8h-1.4zM617.6 84.5h1.4v1.8h-1.4zM617.2 111.4h1.4v1.8h-1.4zM623.3 25.9h1.4v1.8h-1.4zM621.9 78.0h1.4v1.8h-1.4zM624.7 112.9h1.4v1.8h-1.4zM623.6 49.3h1.4v1.8h-1.4zM624.1 114.2h1.4v1.8h-1.4zM622.7 113.9h1.4v1.8h-1.4zM625.7 83.5h1.4v1.8h-1.4zM623.5 38.1h1.4v1.8h-1.4zM621.5 26.3h1.4v1.8h-1.4zM624.2 95.5h1.4v1.8h-1.4zM626.2 85.8h1.4v1.8h-1.4zM640.1 67.3h1.4v1.8h-1.4zM630.5 29.1h1.4v1.8h-1.4zM632.2 79.3h1.4v1.8h-1.4zM640.0 56.8h1.4v1.8h-1.4zM631.6 96.4h1.4v1.8h-1.4zM633.3 81.9h1.4v1.8h-1.4zM630.7 107.5h1.4v1.8h-1.4zM639.3 99.2h1.4v1.8h-1.4zM639.4 60.4h1.4v1.8h-1.4zM629.3 57.6h1.4v1.8h-1.4zM639.0 73.7h1.4v1.8h-1.4zM631.2 40.8h1.4v1.8h-1.4zM630.8 70.8h1.4v1.8h-1.4zM639.3 110.0h1.4v1.8h-1.4zM637.5 99.3h1.4v1.8h-1.4zM631.1 101.1h1.4v1.8h-1.4zM631.5 78.9h1.4v1.8h-1.4zM629.4 110.7h1.4v1.8h-1.4zM630.4 85.0h1.4v1.8h-1.4zM636.4 89.5h1.4v1.8h-1.4zM636.6 64.0h1.4v1.8h-1.4zM637.8 114.5h1.4v1.8h-1.4zM635.9 117.9h1.4v1.8h-1.4zM638.5 28.5h1.4v1.8h-1.4zM658.4 33.4h1.4v1.8h-1.4zM658.3 64.2h1.4v1.8h-1.4zM659.1 26.9h1.4v1.8h-1.4zM659.5 26.7h1.4v1.8h-1.4zM655.8 19.4h1.4v1.8h-1.4zM656.1 118.4h1.4v1.8h-1.4zM659.0 112.7h1.4v1.8h-1.4zM656.3 93.4h1.4v1.8h-1.4zM658.9 96.8h1.4v1.8h-1.4zM702.6 117.1h1.4v1.8h-1.4zM710.1 93.1h1.4v1.8h-1.4zM702.8 66.8h1.4v1.8h-1.4zM710.6 78.0h1.4v1.8h-1.4zM706.2 113.0h1.4v1.8h-1.4zM705.1 107.9h1.4v1.8h-1.4zM698.9 79.3h1.4v1.8h-1.4zM709.9 21.2h1.4v1.8h-1.4zM709.6 55.6h1.4v1.8h-1.4zM708.4 87.7h1.4v1.8h-1.4zM700.4 114.9h1.4v1.8h-1.4zM702.1 39.0h1.4v1.8h-1.4zM705.4 29.7h1.4v1.8h-1.4zM699.8 99.7h1.4v1.8h-1.4zM699.8 80.3h1.4v1.8h-1.4zM712.7 72.2h1.4v1.8h-1.4zM711.5 105.5h1.4v1.8h-1.4zM700.9 31.4h1.4v1.8h-1.4zM711.0 108.5h1.4v1.8h-1.4zM712.2 95.7h1.4v1.8h-1.4zM706.5 116.1h1.4v1.8h-1.4zM710.3 99.8h1.4v1.8h-1.4zM713.1 28.4h1.4v1.8h-1.4zM710.3 84.2h1.4v1.8h-1.4zM698.4 52.4h1.4v1.8h-1.4zM709.9 79.2h1.4v1.8h-1.4zM707.4 55.7h1.4v1.8h-1.4zM707.5 109.6h1.4v1.8h-1.4zM714.3 81.3h1.4v1.8h-1.4zM710.2 32.9h1.4v1.8h-1.4zM700.5 82.0h1.4v1.8h-1.4zM711.7 36.9h1.4v1.8h-1.4zM700.6 76.5h1.4v1.8h-1.4zM703.2 39.5h1.4v1.8h-1.4zM700.8 69.4h1.4v1.8h-1.4zM711.2 43.1h1.4v1.8h-1.4z" fill="#b18000"/>
<path d="M483.5 36.2V52" stroke="#a38000" stroke-width="1.7"/>
<path d="M483.5 40V45.6" stroke="#bd8000" stroke-width="2.0"/>
<path d="M483.5 58.9V63.3" stroke="#9e8000" stroke-width="1.5"/>
<path d="M471.8 33.7H475.3" stroke="#ba8000" stroke-width="1.2"/>
<path d="M489.2 33.7H493.4" stroke="#b58000" stroke-width="1.2"/>
<path d="M664.3 31.1V100.6" stroke="#a88000" stroke-width="1.5"/>
<path d="M664.3 36.2V94.2" stroke="#c28000" stroke-width="2.0" stroke-dasharray="1.5 2.6"/>
<path d="M694.7 36.2V48.8" stroke="#d68000" stroke-width="2.2"/>
<path d="M694.7 48.8V81.6" stroke="#c78000" stroke-width="2.0" stroke-dasharray="1.6 2.4"/>
<ellipse cx="653.7" cy="96.8" rx="2.1" ry="2.3" fill="#c28000"/>
<ellipse cx="653.4" cy="96.2" rx="1.1" ry="1.1" fill="#c98000"/>
<path d="M654.7 98.8L661.2 99" stroke="#bd8000" stroke-width="1.4"/>
<g filter="url(#bl)">
<path d="M485 119.5L485 116L485.9 114.5L486.7 113L487.5 111.4L488.3 112.1L489.1 112.9L489.9 113.6L490.7 113.5L491.5 113.4L492.3 113.2L493.1 112.4L493.9 110.9L494.7 109.4L495.5 107.9L496.3 108.9L497.1 110L497.9 111.1L498.7 112.1L499.5 113L500.3 113.7L501.1 114.4L502 115.2L502.8 115.9L503.6 116.6L503.6 119.5Z" fill="#9d8000"/>
<path d="M485 116.9L485.9 116.8L486.7 116.8L487.5 117L488.3 117L489.1 116.9L489.9 116.9L490.7 117.1L491.5 117L492.3 116.9L493.1 117L493.9 117.1L494.7 117.1L495.5 117L496.3 117.1L497.1 117.2L497.9 117.1L498.7 117.1L499.5 117.2L500.3 117.3L501.1 117.2L502 117.1L502.8 117.2L503.6 117.3" fill="none" stroke="#e68000" stroke-width="1.1" opacity="1.00"/>
<path d="M485.9 114.1L486.7 114.3L487.5 114.5L488.3 114.4L489.1 114.3L489.9 114.5L490.7 114.7L491.5 114.5L492.3 114.4L493.1 114.7L493.9 114.8L494.7 114.6L495.5 114.5L496.3 114.8L497.1 114.9L497.9 114.7L498.7 114.7L499.5 114.9L500.3 115L501.1 114.8L502 114.8" fill="none" stroke="#e68000" stroke-width="1.1" opacity="1.00"/>
<path d="M487.5 111.9L488.3 111.6M493.1 112.4L493.9 112.3L494.7 112L495.5 112.2L496.3 112.5L497.1 112.4L497.9 112.2L498.7 112.4L499.5 112.7" fill="none" stroke="#e68000" stroke-width="1.1" opacity="0.90"/>
<path d="M494.7 109.5L495.5 110L496.3 110.2L497.1 109.8" fill="none" stroke="#e68000" stroke-width="1.1" opacity="0.80"/>
<path d="M495.5 107.8L496.3 107.7" fill="none" stroke="#e68000" stroke-width="1.1" opacity="0.70"/>
<path d="M518.2 119.5L518.2 106.7L519.1 103.7L519.9 102L520.8 102.3L521.7 102.6L522.5 105L523.4 107.6L524.2 110.2L525.1 112.8L525.9 115.4L525.9 119.5Z" fill="#9d8000"/>
<path d="M518.2 116.4L519.1 116.6L519.9 116.6L520.8 116.5L521.7 116.7L522.5 116.8L523.4 116.7L524.2 116.7L525.1 116.9L525.9 116.9" fill="none" stroke="#e68000" stroke-width="1.1" opacity="1.00"/>
<path d="M518.2 113.5L519.1 113.7L519.9 113.5L520.8 113.5L521.7 113.9L522.5 114L523.4 113.8L524.2 114L525.1 114.3" fill="none" stroke="#e68000" stroke-width="1.1" opacity="1.00"/>
<path d="M518.2 110.7L519.1 110.7L519.9 110.4L520.8 110.8L521.7 111.2L522.5 111L523.4 110.9L524.2 111.4" fill="none" stroke="#e68000" stroke-width="1.1" opacity="0.90"/>
<path d="M518.2 107.8L519.1 107.4L519.9 107.3L520.8 108.1L521.7 108.4L522.5 107.9L523.4 108.2" fill="none" stroke="#e68000" stroke-width="1.1" opacity="0.80"/>
<path d="M519.1 104.1L519.9 104.6L520.8 105.5L521.7 105.3L522.5 104.9" fill="none" stroke="#e68000" stroke-width="1.1" opacity="0.70"/>
<path d="M519.9 102L520.8 102.6L521.7 102" fill="none" stroke="#e68000" stroke-width="1.1" opacity="0.60"/>
<path d="M528.4 119.5L528.4 109L529.2 106.1L530 103.2L530.8 103.4L531.6 104.2L532.4 105L533.2 105.9L534 106.7L534.8 106.9L535.6 107L536.4 107.1L537.2 107.7L538 108.8L538.8 109.9L539.6 110.9L540.4 111.7L541.2 112.2L542 112.8L542.8 113.3L543.6 113.9L544.4 114.4L545.2 115L546 115.5L546.8 116.1L547.6 116.6L547.6 119.5Z" fill="#9d8000"/>
<path d="M528.4 115.9L529.2 116L530 116L530.8 116.2L531.6 116.5L532.4 116.6L533.2 116.6L534 116.8L534.8 117.1L535.6 117L536.4 117L537.2 117.1L538 117.2L538.8 117.2L539.6 117.1L540.4 117.2L541.2 117.4L542 117.3L542.8 117.3L543.6 117.4L544.4 117.5L545.2 117.5L546 117.5L546.8 117.6L547.6 117.7" fill="none" stroke="#e68000" stroke-width="1.1" opacity="1.00"/>
<path d="M528.4 112.4L529.2 112.4L530 112.5L530.8 113.1L531.6 113.5L532.4 113.6L533.2 113.7L534 114.3L534.8 114.6L535.6 114.5L536.4 114.5L537.2 114.8L538 114.9L538.8 114.8L539.6 114.8L540.4 115.1L541.2 115.2L542 115.1L542.8 115.1L543.6 115.4L544.4 115.5L545.2 115.4L546 115.5L546.8 115.7" fill="none" stroke="#e68000" stroke-width="1.1" opacity="1.00"/>
<path d="M528.4 108.8L529.2 108.7L530 109.2L530.8 110.1L531.6 110.4L532.4 110.4L533.2 111L534 111.8L534.8 112.1L535.6 111.8L536.4 112.1L537.2 112.5L538 112.5L538.8 112.3L539.6 112.6L540.4 113L541.2 112.9L542 112.8L542.8 113.1L543.6 113.4" fill="none" stroke="#e68000" stroke-width="1.1" opacity="0.90"/>
<path d="M529.2 104.9L530 106L530.8 107L531.6 107.1L532.4 107.3L533.2 108.4L534 109.3L534.8 109.3L535.6 109.2L536.4 109.8L537.2 110.2L538 109.9L538.8 109.9L539.6 110.5L540.4 110.8" fill="none" stroke="#e68000" stroke-width="1.1" opacity="0.80"/>
<path d="M530 103L530.8 103.8L531.6 103.7L532.4 104.5L533.2 105.9L534 106.5L534.8 106.5L535.6 106.9L536.4 107.7L537.2 107.7" fill="none" stroke="#e68000" stroke-width="1.1" opacity="0.70"/>
<path d="M550.4 119.5L550.4 116L551.2 115L552 114L552.9 113L553.7 112L554.5 111.5L555.3 112L556.2 112.4L557 112.9L557.8 113.4L558.6 113.6L559.5 113.1L560.3 112.6L561.1 112L561.9 111.5L562.8 111.3L563.6 112L564.4 112.8L565.2 113.6L566.1 114.3L566.9 115.1L567.7 115.8L568.5 116.6L568.5 119.5Z" fill="#9d8000"/>
<path d="M550.4 117.1L551.2 117L552 116.9L552.9 117L553.7 117.1L554.5 117.1L555.3 117L556.2 117.1L557 117.2L557.8 117.1L558.6 117.1L559.5 117.2L560.3 117.3L561.1 117.2L561.9 117.1L562.8 117.3L563.6 117.3L564.4 117.2L565.2 117.2L566.1 117.4L566.9 117.4L567.7 117.3L568.5 117.3" fill="none" stroke="#e68000" stroke-width="1.1" opacity="1.00"/>
<path d="M551.2 114.4L552 114.4L552.9 114.6L553.7 114.7L554.5 114.5L555.3 114.5L556.2 114.8L557 114.8L557.8 114.6L558.6 114.7L559.5 115L560.3 114.9L561.1 114.7L561.9 114.9L562.8 115.1L563.6 115L564.4 114.9L565.2 115.1L566.1 115.3L566.9 115.1" fill="none" stroke="#e68000" stroke-width="1.1" opacity="1.00"/>
<path d="M552.9 112.3L553.7 112.2L554.5 111.9L555.3 112.2L556.2 112.5L557 112.4M559.5 112.7L560.3 112.5L561.1 112.4L561.9 112.7L562.8 112.9L563.6 112.6L564.4 112.6L565.2 113" fill="none" stroke="#e68000" stroke-width="1.1" opacity="0.90"/>
<path d="M561.9 110.7L562.8 110.5" fill="none" stroke="#e68000" stroke-width="1.1" opacity="0.80"/>
<path d="M613.6 119.5L613.6 112.5L614.5 107.1L615.5 103.6L616.4 103.1L617.3 104.3L618.3 107.7L619.2 111.4L619.2 119.5Z" fill="#9d8000"/>
<path d="M613.6 116.7L614.5 116.6L615.5 116.6L616.4 116.7L617.3 116.7L618.3 116.6L619.2 116.8" fill="none" stroke="#e68000" stroke-width="1.1" opacity="1.00"/>
<path d="M613.6 113.8L614.5 113.5L615.5 113.8L616.4 114L617.3 113.8L618.3 113.8L619.2 114.1" fill="none" stroke="#e68000" stroke-width="1.1" opacity="1.00"/>
<path d="M614.5 110.6L615.5 111.1L616.4 111.2L617.3 110.8L618.3 111.1L619.2 111.5" fill="none" stroke="#e68000" stroke-width="1.1" opacity="0.90"/>
<path d="M614.5 107.7L615.5 108.4L616.4 108.1L617.3 107.8L618.3 108.5" fill="none" stroke="#e68000" stroke-width="1.1" opacity="0.80"/>
<path d="M615.5 105.6L616.4 105L617.3 105.1" fill="none" stroke="#e68000" stroke-width="1.1" opacity="0.70"/>
<path d="M615.5 102.6L616.4 101.9L617.3 102.7" fill="none" stroke="#e68000" stroke-width="1.1" opacity="0.60"/>
<path d="M621.7 119.5L621.7 111.4L622.5 106L623.4 104.1L624.3 103.5L625.1 104.5L626 107.4L626.9 111.4L626.9 119.5Z" fill="#9d8000"/>
<path d="M621.7 116.6L622.5 116.8L623.4 116.8L624.3 116.6L625.1 116.7L626 116.8L626.9 116.7" fill="none" stroke="#e68000" stroke-width="1.1" opacity="1.00"/>
<path d="M621.7 113.9L622.5 114.1L623.4 113.9L624.3 113.8L625.1 114L626 114.1L626.9 113.8" fill="none" stroke="#e68000" stroke-width="1.1" opacity="1.00"/>
<path d="M621.7 111.3L622.5 111.4L623.4 111L624.3 111L625.1 111.4L626 111.3L626.9 110.9" fill="none" stroke="#e68000" stroke-width="1.1" opacity="0.90"/>
<path d="M622.5 108.5L623.4 108L624.3 108.4L625.1 108.8L626 108.3" fill="none" stroke="#e68000" stroke-width="1.1" opacity="0.80"/>
<path d="M622.5 105.4L623.4 105.2L624.3 105.9L625.1 105.9" fill="none" stroke="#e68000" stroke-width="1.1" opacity="0.70"/>
<path d="M623.4 102.6L624.3 103.4" fill="none" stroke="#e68000" stroke-width="1.1" opacity="0.60"/>
<path d="M629 119.5L629 111.4L629.8 108L630.7 104.7L631.5 103.9L632.3 103.3L633.2 102.7L634 102.8L634.9 102.9L635.7 103L636.5 103.1L637.4 103.2L638.2 103.9L639 105.1L639.9 106.3L640.7 109.5L641.6 113.7L641.6 119.5Z" fill="#9d8000"/>
<path d="M629 116.8L629.8 116.8L630.7 116.7L631.5 116.8L632.3 116.9L633.2 116.8L634 116.7L634.9 116.9L635.7 116.9L636.5 116.8L637.4 116.8L638.2 117L639 117L639.9 116.9L640.7 116.9L641.6 117.1" fill="none" stroke="#e68000" stroke-width="1.1" opacity="1.00"/>
<path d="M629 114.1L629.8 113.9L630.7 113.8L631.5 114.1L632.3 114.2L633.2 114L634 114L634.9 114.3L635.7 114.3L636.5 114.1L637.4 114.2L638.2 114.5L639 114.4L639.9 114.2L640.7 114.4L641.6 114.6" fill="none" stroke="#e68000" stroke-width="1.1" opacity="1.00"/>
<path d="M629 111.4L629.8 111L630.7 111.1L631.5 111.6L632.3 111.4L633.2 111.1L634 111.5L634.9 111.8L635.7 111.5L636.5 111.4L637.4 111.8L638.2 112L639 111.6L639.9 111.6L640.7 112.1" fill="none" stroke="#e68000" stroke-width="1.1" opacity="0.90"/>
<path d="M629.8 108.1L630.7 108.6L631.5 109L632.3 108.5L633.2 108.4L634 109L634.9 109.1L635.7 108.7L636.5 108.8L637.4 109.4L638.2 109.3L639 108.9L639.9 109.2L640.7 109.7" fill="none" stroke="#e68000" stroke-width="1.1" opacity="0.80"/>
<path d="M630.7 106.2L631.5 106.1L632.3 105.5L633.2 105.9L634 106.6L634.9 106.3L635.7 105.8L636.5 106.4L637.4 106.9L638.2 106.4L639 106.2L639.9 106.9" fill="none" stroke="#e68000" stroke-width="1.1" opacity="0.70"/>
<path d="M630.7 103.6L631.5 103.1L632.3 102.7L633.2 103.5L634 103.9L634.9 103.2L635.7 103.2L636.5 104.1L637.4 104.2L638.2 103.5L639 103.8" fill="none" stroke="#e68000" stroke-width="1.1" opacity="0.60"/>
<path d="M633.2 101.2L634 101" fill="none" stroke="#e68000" stroke-width="1.1" opacity="0.50"/>
<path d="M656.6 119.5L656.6 114.3L657.5 112.2L658.4 110.2L659.3 108.1L660.2 109.2L661.1 110.7L662 112.2L662.9 113.7L662.9 119.5Z" fill="#9d8000"/>
<path d="M656.6 116.8L657.5 116.9L658.4 116.8L659.3 116.8L660.2 116.9L661.1 116.9L662 116.8L662.9 116.8" fill="none" stroke="#e68000" stroke-width="1.1" opacity="1.00"/>
<path d="M656.6 114.3L657.5 114.4L658.4 114.1L659.3 114.1L660.2 114.4L661.1 114.2L662 114L662.9 114.3" fill="none" stroke="#e68000" stroke-width="1.1" opacity="1.00"/>
<path d="M657.5 111.6L658.4 111.3L659.3 111.6L660.2 111.8L661.1 111.4L662 111.4" fill="none" stroke="#e68000" stroke-width="1.1" opacity="0.90"/>
<path d="M659.3 109.2L660.2 109.1" fill="none" stroke="#e68000" stroke-width="1.1" opacity="0.80"/>
<path d="M665.3 119.5L665.3 112.5L666.2 109.3L667.1 106.1L667.9 105.1L668.8 104.8L669.7 105.8L670.6 106.7L671.4 110.2L672.3 113.7L672.3 119.5Z" fill="#9d8000"/>
<path d="M665.3 116.6L666.2 116.7L667.1 116.8L667.9 116.7L668.8 116.6L669.7 116.8L670.6 116.8L671.4 116.6L672.3 116.7" fill="none" stroke="#e68000" stroke-width="1.1" opacity="1.00"/>
<path d="M665.3 113.8L666.2 114.1L667.1 114.1L667.9 113.8L668.8 113.9L669.7 114.1L670.6 113.9L671.4 113.8L672.3 114" fill="none" stroke="#e68000" stroke-width="1.1" opacity="1.00"/>
<path d="M666.2 111.5L667.1 111.2L667.9 110.9L668.8 111.3L669.7 111.4L670.6 111L671.4 111" fill="none" stroke="#e68000" stroke-width="1.1" opacity="0.90"/>
<path d="M666.2 108.7L667.1 108.1L667.9 108.1L668.8 108.7L669.7 108.5L670.6 108" fill="none" stroke="#e68000" stroke-width="1.1" opacity="0.80"/>
<path d="M667.1 105.1L667.9 105.6L668.8 106.1L669.7 105.4" fill="none" stroke="#e68000" stroke-width="1.1" opacity="0.70"/>
<path d="M697.8 119.5L697.8 115.4L698.6 115.4L699.4 115.3L700.2 115.2L701 115.1L701.8 115L702.6 114.9L703.4 114.9L704.3 114.8L705.1 114.7L705.9 114.6L706.7 114.3L707.5 113.9L708.3 113.6L709.1 113.2L709.9 112L710.7 110.4L711.5 108.8L712.3 107.2L713.1 106.3L713.9 106.7L714.7 107.2L715.5 110.3L716.3 114.3L716.3 119.5Z" fill="#9d8000"/>
<path d="M697.8 117.1L698.6 117.2L699.4 117L700.2 117L701 117.1L701.8 117.1L702.6 117L703.4 117L704.3 117.1L705.1 117.1L705.9 116.9L706.7 116.9L707.5 117L708.3 117L709.1 116.9L709.9 116.9L710.7 117L711.5 117L712.3 116.8L713.1 116.8L713.9 117L714.7 116.9L715.5 116.8L716.3 116.8" fill="none" stroke="#e68000" stroke-width="1.1" opacity="1.00"/>
<path d="M697.8 114.8L698.6 114.8M700.2 114.6L701 114.8L701.8 114.6L702.6 114.4L703.4 114.5L704.3 114.7L705.1 114.5L705.9 114.3L706.7 114.4L707.5 114.6L708.3 114.4L709.1 114.2L709.9 114.4L710.7 114.5L711.5 114.3L712.3 114.1L713.1 114.3L713.9 114.4L714.7 114.2L715.5 114L716.3 114.3" fill="none" stroke="#e68000" stroke-width="1.1" opacity="1.00"/>
<path d="M709.9 112L710.7 112L711.5 111.5L712.3 111.5L713.1 111.9L713.9 111.8L714.7 111.4L715.5 111.4" fill="none" stroke="#e68000" stroke-width="1.1" opacity="0.90"/>
<path d="M711.5 108.8L712.3 109.1L713.1 109.4L713.9 109L714.7 108.6" fill="none" stroke="#e68000" stroke-width="1.1" opacity="0.80"/>
<path d="M712.3 106.8L713.1 106.8L713.9 106.1L714.7 106" fill="none" stroke="#e68000" stroke-width="1.1" opacity="0.70"/>
</g>
</g></svg>
<path d="M454.3 119.5V18.5H733.8" fill="none" stroke="#5e5e6c" stroke-width="1"/>
<path d="M733.8 18.5V119.5H454.3" fill="none" stroke="#383838" stroke-width="1"/>
<path d="M454.3 119.5v-2.5M454.3 18.5v2.5M489.2 119.5v-2.5M489.2 18.5v2.5M524.2 119.5v-2.5M524.2 18.5v2.5M559.1 119.5v-2.5M559.1 18.5v2.5M594 119.5v-2.5M594 18.5v2.5M629 119.5v-2.5M629 18.5v2.5M663.9 119.5v-2.5M663.9 18.5v2.5M698.9 119.5v-2.5M698.9 18.5v2.5M454.3 119.5h2.5M733.8 119.5h-2.5M454.3 94.2h2.5M733.8 94.2h-2.5M454.3 69h2.5M733.8 69h-2.5M454.3 43.8h2.5M733.8 43.8h-2.5M454.3 18.5h2.5M733.8 18.5h-2.5" stroke="#222" stroke-width="1" fill="none"/>
<text x="452.8" y="124.1" text-anchor="end">0</text>
<text x="452.8" y="98.8" text-anchor="end">2000</text>
<text x="452.8" y="73.6" text-anchor="end">4000</text>
<text x="452.8" y="48.4" text-anchor="end">6000</text>
<text x="452.8" y="23.1" text-anchor="end">8000</text>
<text x="454.3" y="133.1" text-anchor="middle">0</text>
<text x="524.2" y="133.1" text-anchor="middle">2</text>
<text x="594" y="133.1" text-anchor="middle">4</text>
<text x="663.9" y="133.1" text-anchor="middle">6</text>
<text x="594" y="9.2" text-anchor="middle">β-STSA</text>
<rect x="740.6" y="18.7" width="18.6" height="101" fill="url(#cbg)" stroke="#6a6a72" stroke-width="1"/>
<text x="760.8" y="28">20</text>
<text x="760.8" y="47.2">0</text>
<text x="760.8" y="66.9">-20</text>
<text x="760.8" y="86.3">-40</text>
<text x="760.8" y="105.7">-60</text>
<text x="760.8" y="123.3">-80</text>
<path d="M759.2 23.4h-2.5M740.6 23.4h2.5M759.2 42.6h-2.5M740.6 42.6h2.5M759.2 62.3h-2.5M740.6 62.3h2.5M759.2 81.7h-2.5M740.6 81.7h2.5M759.2 101.1h-2.5M740.6 101.1h2.5M759.2 118.7h-2.5M740.6 118.7h2.5" stroke="#222" stroke-width="1" fill="none"/>
<svg x="46.6" y="164.4" width="287.3" height="97.1" viewBox="46.6 164.4 287.3 97.1" overflow="hidden">
<g filter="url(#f2)"><rect x="46.6" y="164.4" width="287.3" height="97.1" fill="#998000"/>
<linearGradient id="bg2" x1="0" y1="0" x2="0" y2="1"><stop offset="0" stop-color="#96bf00"/><stop offset="0.7" stop-color="#9bd900"/><stop offset="1" stop-color="#a0f200"/></linearGradient>
<g filter="url(#bb)">
<rect x="76" y="164.4" width="15.4" height="97.1" fill="url(#bg2)"/>
<rect x="113" y="164.4" width="6.1" height="97.1" fill="url(#bg2)"/>
<rect x="122.7" y="164.4" width="7.9" height="97.1" fill="url(#bg2)"/>
<rect x="146.1" y="164.4" width="7.5" height="97.1" fill="url(#bg2)"/>
<rect x="210" y="164.4" width="6.1" height="97.1" fill="url(#bg2)"/>
<rect x="217.9" y="164.4" width="5.4" height="97.1" fill="url(#bg2)"/>
<rect x="226.2" y="164.4" width="11.5" height="97.1" fill="url(#bg2)"/>
<rect x="253.5" y="164.4" width="4.3" height="97.1" fill="url(#bg2)"/>
<rect x="297.3" y="164.4" width="16.9" height="97.1" fill="url(#bg2)"/>
</g>
<path d="M78.3 230.3h1.4v1.8h-1.4zM78.7 238.4h1.4v1.8h-1.4zM85.4 209.6h1.4v1.8h-1.4zM85.6 226.0h1.4v1.8h-1.4zM76.7 222.8h1.4v1.8h-1.4zM116.8 221.9h1.4v1.8h-1.4zM118.4 240.3h1.4v1.8h-1.4zM125.7 194.0h1.4v1.8h-1.4zM123.7 246.5h1.4v1.8h-1.4zM128.2 229.7h1.4v1.8h-1.4zM149.4 220.3h1.4v1.8h-1.4zM147.8 222.9h1.4v1.8h-1.4zM210.9 230.7h1.4v1.8h-1.4zM213.8 234.9h1.4v1.8h-1.4zM219.2 178.8h1.4v1.8h-1.4zM219.7 236.4h1.4v1.8h-1.4zM232.0 241.3h1.4v1.8h-1.4zM231.1 210.9h1.4v1.8h-1.4zM236.6 187.6h1.4v1.8h-1.4zM228.5 228.0h1.4v1.8h-1.4zM256.2 214.1h1.4v1.8h-1.4zM306.7 214.8h1.4v1.8h-1.4zM308.6 252.8h1.4v1.8h-1.4zM311.2 232.3h1.4v1.8h-1.4zM305.2 257.4h1.4v1.8h-1.4zM304.8 231.1h1.4v1.8h-1.4zM311.9 236.0h1.4v1.8h-1.4z" fill="#af8000"/>
<rect x="46.6" y="164.4" width="4.7" height="97.1" fill="#9fbf00" filter="url(#bb)"/>
<path d="M76.6 181.4V196.6" stroke="#9c8000" stroke-width="1.7"/>
<path d="M76.6 185V190.5" stroke="#b58000" stroke-width="2.0"/>
<path d="M76.6 203.2V207.5" stroke="#968000" stroke-width="1.5"/>
<path d="M64.6 179H68.1" stroke="#a88000" stroke-width="1.2"/>
<path d="M82.5 179H86.8" stroke="#a38000" stroke-width="1.2"/>
<path d="M262.4 176.5V243.3" stroke="#a38000" stroke-width="1.5"/>
<path d="M262.4 181.4V237.2" stroke="#b98000" stroke-width="2.0" stroke-dasharray="1.5 2.6"/>
<path d="M293.7 181.4V193.5" stroke="#bb8000" stroke-width="2.2"/>
<path d="M293.7 193.5V225.1" stroke="#b98000" stroke-width="2.0" stroke-dasharray="1.6 2.4"/>
<ellipse cx="251.5" cy="239.8" rx="2.1" ry="2.3" fill="#b08000"/>
<ellipse cx="251.2" cy="239.2" rx="1.1" ry="1.1" fill="#b88000"/>
<path d="M252.5 241.8L259 242" stroke="#ab8000" stroke-width="1.4"/>
<g filter="url(#bl)">
<path d="M78.2 261.5L78.2 258.5L79 257.2L79.9 255.8L80.7 254.5L81.5 255.1L82.3 255.8L83.2 256.4L84 256.3L84.8 256.2L85.7 256.1L86.5 255.4L87.3 254.1L88.1 252.8L89 251.5L89.8 252.4L90.6 253.3L91.4 254.2L92.3 255.1L93.1 255.9L93.9 256.5L94.8 257.1L95.6 257.7L96.4 258.4L97.2 259L97.2 261.5Z" fill="#9e8000"/>
<path d="M78.2 259L79 258.9L79.9 258.9L80.7 259.1L81.5 259.1L82.3 259L83.2 259L84 259.2L84.8 259.1L85.7 259L86.5 259.1L87.3 259.2L88.1 259.2L89 259.1L89.8 259.2L90.6 259.3L91.4 259.2L92.3 259.2L93.1 259.2L93.9 259.3L94.8 259.3L95.6 259.2L96.4 259.3L97.2 259.4" fill="none" stroke="#e38000" stroke-width="1.1" opacity="1.00"/>
<path d="M79.9 256.5L80.7 256.7L81.5 256.6L82.3 256.5L83.2 256.7L84 256.9L84.8 256.7L85.7 256.6L86.5 256.8L87.3 257L88.1 256.8L89 256.7L89.8 257L90.6 257.1L91.4 256.9L92.3 256.8L93.1 257.1L93.9 257.1L94.8 256.9" fill="none" stroke="#e38000" stroke-width="1.1" opacity="1.00"/>
<path d="M86.5 254.6L87.3 254.6L88.1 254.3L89 254.5L89.8 254.8L90.6 254.7L91.4 254.4L92.3 254.7" fill="none" stroke="#e38000" stroke-width="1.1" opacity="0.86"/>
<path d="M88.1 251.9L89 252.3L89.8 252.6L90.6 252.2" fill="none" stroke="#e38000" stroke-width="1.1" opacity="0.72"/>
<path d="M112.3 261.5L112.3 250.4L113.2 247.9L114.1 246.3L115 246.6L115.8 246.9L116.7 249L117.6 251.2L118.5 253.5L119.3 255.7L120.2 258L120.2 261.5Z" fill="#9e8000"/>
<path d="M112.3 258.6L113.2 258.7L114.1 258.7L115 258.6L115.8 258.8L116.7 258.9L117.6 258.8L118.5 258.8L119.3 259L120.2 259" fill="none" stroke="#e38000" stroke-width="1.1" opacity="1.00"/>
<path d="M112.3 255.7L113.2 255.9L114.1 255.7L115 255.8L115.8 256.1L116.7 256.2L117.6 256L118.5 256.2L119.3 256.5" fill="none" stroke="#e38000" stroke-width="1.1" opacity="1.00"/>
<path d="M112.3 253L113.2 253L114.1 252.7L115 253.1L115.8 253.5L116.7 253.3L117.6 253.2L118.5 253.7" fill="none" stroke="#e38000" stroke-width="1.1" opacity="0.86"/>
<path d="M112.3 250.2L113.2 249.9L114.1 249.8L115 250.6L115.8 250.8L116.7 250.4L117.6 250.6" fill="none" stroke="#e38000" stroke-width="1.1" opacity="0.72"/>
<path d="M113.2 246.7L114.1 247.1L115 248L115.8 247.8" fill="none" stroke="#e38000" stroke-width="1.1" opacity="0.58"/>
<path d="M114.1 244.7L115 245.3" fill="none" stroke="#e38000" stroke-width="1.1" opacity="0.44"/>
<path d="M122.7 261.5L122.7 252.5L123.6 249.9L124.4 247.4L125.2 247.5L126 248.3L126.8 249L127.7 249.7L128.5 250.4L129.3 250.6L130.1 250.7L131 250.8L131.8 251.3L132.6 252.3L133.4 253.2L134.3 254.1L135.1 254.7L135.9 255.2L136.7 255.7L137.5 256.2L138.4 256.6L139.2 257.1L140 257.6L140.8 258L141.7 258.5L142.5 259L142.5 261.5Z" fill="#9e8000"/>
<path d="M122.7 258.1L123.6 258.2L124.4 258.2L125.2 258.4L126 258.6L126.8 258.7L127.7 258.7L128.5 258.9L129.3 259.2L130.1 259.1L131 259.1L131.8 259.2L132.6 259.3L133.4 259.3L134.3 259.2L135.1 259.3L135.9 259.5L136.7 259.4L137.5 259.4L138.4 259.5L139.2 259.6L140 259.6L140.8 259.5L141.7 259.7L142.5 259.7" fill="none" stroke="#e38000" stroke-width="1.1" opacity="1.00"/>
<path d="M122.7 254.7L123.6 254.7L124.4 254.8L125.2 255.4L126 255.8L126.8 255.8L127.7 256L128.5 256.5L129.3 256.8L130.1 256.7L131 256.7L131.8 257L132.6 257.1L133.4 256.9L134.3 257L135.1 257.3L135.9 257.4L136.7 257.2L137.5 257.3L138.4 257.6L139.2 257.7L140 257.5L140.8 257.6" fill="none" stroke="#e38000" stroke-width="1.1" opacity="1.00"/>
<path d="M123.6 251.1L124.4 251.6L125.2 252.5L126 252.8L126.8 252.8L127.7 253.3L128.5 254.1L129.3 254.3L130.1 254.1L131 254.4L131.8 254.8L132.6 254.8L133.4 254.6L134.3 254.8L135.1 255.2L135.9 255.2L136.7 255" fill="none" stroke="#e38000" stroke-width="1.1" opacity="0.86"/>
<path d="M124.4 248.6L125.2 249.5L126 249.6L126.8 249.8L127.7 250.8L128.5 251.7L129.3 251.7L130.1 251.6L131 252.2L131.8 252.6L132.6 252.3L133.4 252.3" fill="none" stroke="#e38000" stroke-width="1.1" opacity="0.72"/>
<path d="M131 250.1L131.8 250.2" fill="none" stroke="#e38000" stroke-width="1.1" opacity="0.58"/>
<path d="M145.4 261.5L145.4 258.5L146.2 257.7L147 256.8L147.8 256L148.6 255.2L149.4 254.5L150.2 254.9L151 255.3L151.9 255.7L152.7 256L153.5 256.4L154.3 256.1L155.1 255.7L155.9 255.3L156.7 254.9L157.5 254.5L158.4 254.6L159.2 255.2L160 255.8L160.8 256.5L161.6 257.1L162.4 257.7L163.2 258.4L164 259L164 261.5Z" fill="#9e8000"/>
<path d="M145.4 259.1L146.2 259.1L147 259L147.8 259.1L148.6 259.2L149.4 259.2L150.2 259.1L151 259.1L151.9 259.3L152.7 259.3L153.5 259.2L154.3 259.2L155.1 259.3L155.9 259.3L156.7 259.2L157.5 259.3L158.4 259.4L159.2 259.4L160 259.3L160.8 259.3L161.6 259.5L162.4 259.4L163.2 259.4L164 259.4" fill="none" stroke="#e38000" stroke-width="1.1" opacity="1.00"/>
<path d="M147 256.5L147.8 256.8L148.6 256.9L149.4 256.8L150.2 256.7L151 256.9L151.9 257.1L152.7 256.9L153.5 256.8L154.3 257L155.1 257.2L155.9 257L156.7 256.9L157.5 257.2L158.4 257.3L159.2 257.1L160 257.1L160.8 257.3L161.6 257.4L162.4 257.3" fill="none" stroke="#e38000" stroke-width="1.1" opacity="1.00"/>
<path d="M148.6 254.6L149.4 254.3L150.2 254.4L151 254.7M155.1 254.9L155.9 254.6L156.7 254.8L157.5 255.1L158.4 255.1L159.2 254.8" fill="none" stroke="#e38000" stroke-width="1.1" opacity="0.86"/>
<path d="M210.4 261.5L210.4 255.5L211.2 251.5L212 248.1L212.8 247L213.6 247.7L214.5 249L215.3 251.7L216.1 254.5L216.1 261.5Z" fill="#9e8000"/>
<path d="M210.4 258.8L211.2 258.7L212 258.6L212.8 258.8L213.6 258.9L214.5 258.8L215.3 258.7L216.1 258.9" fill="none" stroke="#e38000" stroke-width="1.1" opacity="1.00"/>
<path d="M210.4 256L211.2 255.8L212 255.9L212.8 256.2L213.6 256.2L214.5 255.9L215.3 256L216.1 256.3" fill="none" stroke="#e38000" stroke-width="1.1" opacity="1.00"/>
<path d="M211.2 252.9L212 253.2L212.8 253.6L213.6 253.3L214.5 253.1L215.3 253.5L216.1 253.8" fill="none" stroke="#e38000" stroke-width="1.1" opacity="0.86"/>
<path d="M212 250.7L212.8 250.8L213.6 250.3L214.5 250.4L215.3 251" fill="none" stroke="#e38000" stroke-width="1.1" opacity="0.72"/>
<path d="M212 248.2L212.8 247.8L213.6 247.4L214.5 248" fill="none" stroke="#e38000" stroke-width="1.1" opacity="0.58"/>
<path d="M218.6 261.5L218.6 254.5L219.5 249.9L220.4 248.2L221.3 247.6L222.2 248.6L223.1 251L224 254.5L224 261.5Z" fill="#9e8000"/>
<path d="M218.6 258.7L219.5 258.9L220.4 258.9L221.3 258.7L222.2 258.8L223.1 258.9L224 258.8" fill="none" stroke="#e38000" stroke-width="1.1" opacity="1.00"/>
<path d="M218.6 256.1L219.5 256.3L220.4 256.2L221.3 256L222.2 256.2L223.1 256.3L224 256" fill="none" stroke="#e38000" stroke-width="1.1" opacity="1.00"/>
<path d="M218.6 253.6L219.5 253.7L220.4 253.3L221.3 253.3L222.2 253.7L223.1 253.6" fill="none" stroke="#e38000" stroke-width="1.1" opacity="0.86"/>
<path d="M219.5 250.9L220.4 250.5L221.3 250.8L222.2 251.2L223.1 250.7" fill="none" stroke="#e38000" stroke-width="1.1" opacity="0.72"/>
<path d="M220.4 247.7L221.3 248.5L222.2 248.4" fill="none" stroke="#e38000" stroke-width="1.1" opacity="0.58"/>
<path d="M226.2 261.5L226.2 254.5L227 251.8L227.8 249L228.6 248.1L229.4 247.6L230.2 247.1L231 247L231.8 247.1L232.6 247.2L233.4 247.2L234.2 247.3L235.1 247.4L235.9 248.3L236.7 249.3L237.5 250.2L238.3 253.1L239.1 256.5L239.1 261.5Z" fill="#9e8000"/>
<path d="M226.2 258.9L227 258.9L227.8 258.8L228.6 258.8L229.4 259L230.2 259L231 258.8L231.8 258.9L232.6 259L233.4 259L234.2 258.9L235.1 259L235.9 259.1L236.7 259.1L237.5 259L238.3 259L239.1 259.1" fill="none" stroke="#e38000" stroke-width="1.1" opacity="1.00"/>
<path d="M226.2 256.3L227 256.2L227.8 256L228.6 256.3L229.4 256.5L230.2 256.3L231 256.2L231.8 256.4L232.6 256.6L233.4 256.4L234.2 256.3L235.1 256.5L235.9 256.7L236.7 256.5L237.5 256.4L238.3 256.6L239.1 256.8" fill="none" stroke="#e38000" stroke-width="1.1" opacity="1.00"/>
<path d="M226.2 253.7L227 253.3L227.8 253.4L228.6 253.8L229.4 253.8L230.2 253.5L231 253.6L231.8 254L232.6 254L233.4 253.7L234.2 253.8L235.1 254.2L235.9 254.2L236.7 253.9L237.5 254L238.3 254.4" fill="none" stroke="#e38000" stroke-width="1.1" opacity="0.86"/>
<path d="M227.8 250.9L228.6 251.4L229.4 251.1L230.2 250.8L231 251.2L231.8 251.6L232.6 251.3L233.4 251L234.2 251.4L235.1 251.8L235.9 251.5L236.7 251.3L237.5 251.7L238.3 252.1" fill="none" stroke="#e38000" stroke-width="1.1" opacity="0.72"/>
<path d="M227.8 248.6L228.6 248.7L229.4 248.2L230.2 248.2L231 248.9L231.8 249L232.6 248.5L233.4 248.5L234.2 249.2L235.1 249.3L235.9 248.8L236.7 248.8L237.5 249.5" fill="none" stroke="#e38000" stroke-width="1.1" opacity="0.58"/>
<path d="M230.2 245.8L231 246.6L231.8 246.2L232.6 245.7L233.4 246.2L234.2 246.9L235.1 246.6" fill="none" stroke="#e38000" stroke-width="1.1" opacity="0.44"/>
<path d="M254.5 261.5L254.5 257L255.3 255.4L256.1 253.9L257 252.3L257.8 252L258.6 253.1L259.4 254.2L260.2 255.3L261 256.5L261 261.5Z" fill="#9e8000"/>
<path d="M254.5 258.9L255.3 259L256.1 259L257 258.9L257.8 258.9L258.6 259L259.4 259L260.2 258.9L261 258.9" fill="none" stroke="#e38000" stroke-width="1.1" opacity="1.00"/>
<path d="M254.5 256.5L255.3 256.6L256.1 256.3L257 256.2L257.8 256.5L258.6 256.6L259.4 256.3L260.2 256.2L261 256.5" fill="none" stroke="#e38000" stroke-width="1.1" opacity="1.00"/>
<path d="M256.1 253.6L257 253.7L257.8 254.1L258.6 254L259.4 253.6" fill="none" stroke="#e38000" stroke-width="1.1" opacity="0.86"/>
<path d="M257 251.4L257.8 251.7" fill="none" stroke="#e38000" stroke-width="1.1" opacity="0.72"/>
<path d="M263.5 261.5L263.5 255.5L264.4 252.7L265.3 249.9L266.2 249L267.1 248.8L268 249.6L268.9 250.4L269.8 253.5L270.7 256.5L270.7 261.5Z" fill="#9e8000"/>
<path d="M263.5 258.7L264.4 258.8L265.3 258.9L266.2 258.8L267.1 258.7L268 258.9L268.9 258.9L269.8 258.7L270.7 258.8" fill="none" stroke="#e38000" stroke-width="1.1" opacity="1.00"/>
<path d="M263.5 256L264.4 256.3L265.3 256.3L266.2 256L267.1 256.1L268 256.3L268.9 256.2L269.8 256L270.7 256.2" fill="none" stroke="#e38000" stroke-width="1.1" opacity="1.00"/>
<path d="M264.4 253.8L265.3 253.5L266.2 253.2L267.1 253.6L268 253.7L268.9 253.3L269.8 253.3" fill="none" stroke="#e38000" stroke-width="1.1" opacity="0.86"/>
<path d="M265.3 250.6L266.2 250.6L267.1 251.1L268 250.9L268.9 250.5" fill="none" stroke="#e38000" stroke-width="1.1" opacity="0.72"/>
<path d="M266.2 248.2L267.1 248.6" fill="none" stroke="#e38000" stroke-width="1.1" opacity="0.58"/>
<path d="M296.9 261.5L296.9 258L297.7 257.9L298.6 257.8L299.4 257.8L300.2 257.7L301 257.6L301.9 257.6L302.7 257.5L303.5 257.4L304.4 257.3L305.2 257.3L306 257L306.8 256.7L307.7 256.4L308.5 256.1L309.3 255L310.2 253.6L311 252.2L311.8 250.9L312.6 250.1L313.5 250.5L314.3 250.8L315.1 253.5L315.9 257L315.9 261.5Z" fill="#9e8000"/>
<path d="M296.9 259.2L297.7 259.3L298.6 259.1L299.4 259.1L300.2 259.2L301 259.2L301.9 259.1L302.7 259.1L303.5 259.2L304.4 259.2L305.2 259L306 259L306.8 259.1L307.7 259.1L308.5 259L309.3 259L310.2 259.1L311 259.1L311.8 258.9L312.6 259L313.5 259.1L314.3 259L315.1 258.9L315.9 258.9" fill="none" stroke="#e38000" stroke-width="1.1" opacity="1.00"/>
<path d="M303.5 256.9L304.4 256.7M306 256.6L306.8 256.8L307.7 256.6L308.5 256.4L309.3 256.6L310.2 256.7L311 256.5L311.8 256.3L312.6 256.5L313.5 256.6L314.3 256.4L315.1 256.3L315.9 256.5" fill="none" stroke="#e38000" stroke-width="1.1" opacity="1.00"/>
<path d="M309.3 254.3L310.2 254.3L311 253.9L311.8 253.8L312.6 254.2L313.5 254.1L314.3 253.7L315.1 253.7" fill="none" stroke="#e38000" stroke-width="1.1" opacity="0.86"/>
<path d="M311 251.2L311.8 251.5L312.6 251.8L313.5 251.4L314.3 251" fill="none" stroke="#e38000" stroke-width="1.1" opacity="0.72"/>
</g>
</g></svg>
<path d="M46.6 261.5V164.4H333.9" fill="none" stroke="#5e5e6c" stroke-width="1"/>
<path d="M333.9 164.4V261.5H46.6" fill="none" stroke="#383838" stroke-width="1"/>
<path d="M46.6 261.5v-2.5M46.6 164.4v2.5M82.5 261.5v-2.5M82.5 164.4v2.5M118.4 261.5v-2.5M118.4 164.4v2.5M154.3 261.5v-2.5M154.3 164.4v2.5M190.2 261.5v-2.5M190.2 164.4v2.5M226.2 261.5v-2.5M226.2 164.4v2.5M262.1 261.5v-2.5M262.1 164.4v2.5M298 261.5v-2.5M298 164.4v2.5M46.6 261.5h2.5M333.9 261.5h-2.5M46.6 237.2h2.5M333.9 237.2h-2.5M46.6 212.9h2.5M333.9 212.9h-2.5M46.6 188.7h2.5M333.9 188.7h-2.5M46.6 164.4h2.5M333.9 164.4h-2.5" stroke="#222" stroke-width="1" fill="none"/>
<text x="45.1" y="266.1" text-anchor="end">0</text>
<text x="45.1" y="241.8" text-anchor="end">2000</text>
<text x="45.1" y="217.5" text-anchor="end">4000</text>
<text x="45.1" y="193.3" text-anchor="end">6000</text>
<text x="45.1" y="169" text-anchor="end">8000</text>
<text x="46.6" y="275.1" text-anchor="middle">0</text>
<text x="118.4" y="275.1" text-anchor="middle">2</text>
<text x="190.2" y="275.1" text-anchor="middle">4</text>
<text x="262.1" y="275.1" text-anchor="middle">6</text>
<text x="190.2" y="154.6" text-anchor="middle">MMSE</text>
<text transform="translate(11,212.9) rotate(-90)" text-anchor="middle">Frequency (Hz)</text>
<rect x="341.6" y="163.9" width="20.7" height="97" fill="url(#cbg)" stroke="#6a6a72" stroke-width="1"/>
<text x="363.9" y="172.6">20</text>
<text x="363.9" y="190.5">0</text>
<text x="363.9" y="208.5">-20</text>
<text x="363.9" y="226.5">-40</text>
<text x="363.9" y="244.4">-60</text>
<text x="363.9" y="261.9">-80</text>
<path d="M362.3 168h-2.5M341.6 168h2.5M362.3 185.9h-2.5M341.6 185.9h2.5M362.3 203.9h-2.5M341.6 203.9h2.5M362.3 221.9h-2.5M341.6 221.9h2.5M362.3 239.8h-2.5M341.6 239.8h2.5M362.3 257.3h-2.5M341.6 257.3h2.5" stroke="#222" stroke-width="1" fill="none"/>
<svg x="454.2" y="166.1" width="279.2" height="94" viewBox="454.2 166.1 279.2 94" overflow="hidden">
<g filter="url(#f3)"><rect x="454.2" y="166.1" width="279.2" height="94" fill="#948000"/>
<linearGradient id="bg3" x1="0" y1="0" x2="0" y2="1"><stop offset="0" stop-color="#92bf00"/><stop offset="0.7" stop-color="#97d900"/><stop offset="1" stop-color="#9df200"/></linearGradient>
<g filter="url(#bb)">
<rect x="482.8" y="166.1" width="15" height="94" fill="url(#bg3)"/>
<rect x="518.8" y="166.1" width="5.9" height="94" fill="url(#bg3)"/>
<rect x="528.2" y="166.1" width="7.7" height="94" fill="url(#bg3)"/>
<rect x="550.9" y="166.1" width="7.3" height="94" fill="url(#bg3)"/>
<rect x="613" y="166.1" width="5.9" height="94" fill="url(#bg3)"/>
<rect x="620.7" y="166.1" width="5.2" height="94" fill="url(#bg3)"/>
<rect x="628.7" y="166.1" width="11.2" height="94" fill="url(#bg3)"/>
<rect x="655.2" y="166.1" width="4.2" height="94" fill="url(#bg3)"/>
<rect x="697.8" y="166.1" width="16.4" height="94" fill="url(#bg3)"/>
</g>
<path d="M497.5 216.3h1.4v1.8h-1.4zM493.6 239.6h1.4v1.8h-1.4zM486.0 178.3h1.4v1.8h-1.4zM491.9 183.6h1.4v1.8h-1.4zM488.6 251.7h1.4v1.8h-1.4zM523.9 183.2h1.4v1.8h-1.4zM519.3 194.3h1.4v1.8h-1.4zM534.5 171.0h1.4v1.8h-1.4zM529.9 181.9h1.4v1.8h-1.4zM551.8 222.1h1.4v1.8h-1.4zM552.2 212.1h1.4v1.8h-1.4zM617.3 238.6h1.4v1.8h-1.4zM615.5 243.6h1.4v1.8h-1.4zM623.7 246.8h1.4v1.8h-1.4zM631.5 208.5h1.4v1.8h-1.4zM635.2 256.0h1.4v1.8h-1.4zM635.6 217.9h1.4v1.8h-1.4zM631.5 200.2h1.4v1.8h-1.4zM656.1 259.1h1.4v1.8h-1.4zM712.3 252.1h1.4v1.8h-1.4zM706.5 237.4h1.4v1.8h-1.4zM702.7 218.5h1.4v1.8h-1.4zM700.2 213.1h1.4v1.8h-1.4zM701.9 181.0h1.4v1.8h-1.4zM712.9 180.6h1.4v1.8h-1.4z" fill="#aa8000"/>
<path d="M483.3 182.6V197.2" stroke="#948000" stroke-width="1.7"/>
<path d="M483.3 186.1V191.4" stroke="#ad8000" stroke-width="2.0"/>
<path d="M483.3 203.7V207.8" stroke="#8f8000" stroke-width="1.5"/>
<path d="M471.6 180.2H475.1" stroke="#9e8000" stroke-width="1.2"/>
<path d="M489.1 180.2H493.3" stroke="#998000" stroke-width="1.2"/>
<path d="M663.9 177.8V242.5" stroke="#9e8000" stroke-width="1.5"/>
<path d="M663.9 182.6V236.6" stroke="#b28000" stroke-width="2.0" stroke-dasharray="1.5 2.6"/>
<path d="M694.3 182.6V194.3" stroke="#b58000" stroke-width="2.2"/>
<path d="M694.3 194.3V224.9" stroke="#b28000" stroke-width="2.0" stroke-dasharray="1.6 2.4"/>
<ellipse cx="653.4" cy="239.2" rx="2.1" ry="2.3" fill="#b08000"/>
<ellipse cx="653.1" cy="238.6" rx="1.1" ry="1.1" fill="#b88000"/>
<path d="M654.4 241.2L660.9 241.4" stroke="#ab8000" stroke-width="1.4"/>
<g filter="url(#bl)">
<path d="M484.9 260.1L484.9 257.3L485.7 256.1L486.5 254.9L487.3 253.7L488.1 254.3L488.9 254.9L489.7 255.5L490.5 255.4L491.3 255.3L492.1 255.1L493 254.5L493.8 253.3L494.6 252.1L495.4 250.9L496.2 251.7L497 252.6L497.8 253.4L498.6 254.3L499.4 255L500.2 255.5L501 256.1L501.8 256.7L502.6 257.2L503.4 257.8L503.4 260.1Z" fill="#968000"/>
<path d="M484.9 257.7L485.7 257.6L486.5 257.6L487.3 257.8L488.1 257.8L488.9 257.7L489.7 257.7L490.5 257.8L491.3 257.8L492.1 257.7L493 257.8L493.8 257.9L494.6 257.9L495.4 257.8L496.2 257.9L497 258L497.8 257.9L498.6 257.8L499.4 257.9L500.2 258L501 257.9L501.8 257.9L502.6 258L503.4 258.1" fill="none" stroke="#e08000" stroke-width="1.1" opacity="1.00"/>
<path d="M486.5 255.3L487.3 255.5L488.1 255.3L488.9 255.2L489.7 255.5L490.5 255.6L491.3 255.4L492.1 255.4L493 255.6L493.8 255.7L494.6 255.5L495.4 255.5L496.2 255.7L497 255.8L497.8 255.6L498.6 255.6L499.4 255.8L500.2 255.9L501 255.7" fill="none" stroke="#e08000" stroke-width="1.1" opacity="1.00"/>
<path d="M493.8 253.4L494.6 253.1L495.4 253.3L496.2 253.6L497 253.5L497.8 253.3L498.6 253.5" fill="none" stroke="#e08000" stroke-width="1.1" opacity="0.78"/>
<path d="M495.4 251.2L496.2 251.5" fill="none" stroke="#e08000" stroke-width="1.1" opacity="0.56"/>
<path d="M518.1 260.1L518.1 250L518.9 247.6L519.8 246.2L520.6 246.5L521.5 246.8L522.3 248.6L523.2 250.7L524 252.8L524.9 254.8L525.7 256.9L525.7 260.1Z" fill="#968000"/>
<path d="M518.1 257.2L518.9 257.4L519.8 257.4L520.6 257.3L521.5 257.5L522.3 257.6L523.2 257.5L524 257.5L524.9 257.7L525.7 257.7" fill="none" stroke="#e08000" stroke-width="1.1" opacity="1.00"/>
<path d="M518.1 254.5L518.9 254.7L519.8 254.5L520.6 254.6L521.5 254.9L522.3 254.9L523.2 254.8L524 255L524.9 255.3" fill="none" stroke="#e08000" stroke-width="1.1" opacity="1.00"/>
<path d="M518.1 251.9L518.9 251.9L519.8 251.6L520.6 252L521.5 252.4L522.3 252.2L523.2 252.1L524 252.6" fill="none" stroke="#e08000" stroke-width="1.1" opacity="0.78"/>
<path d="M518.1 249.2L518.9 248.9L519.8 248.8L520.6 249.5L521.5 249.7L522.3 249.3L523.2 249.6" fill="none" stroke="#e08000" stroke-width="1.1" opacity="0.56"/>
<path d="M519.8 246.2L520.6 247L521.5 246.9" fill="none" stroke="#e08000" stroke-width="1.1" opacity="0.35"/>
<path d="M528.2 260.1L528.2 251.8L529 249.4L529.9 247L530.7 247.4L531.5 248.1L532.4 248.8L533.2 249.5L534 250L534.9 250.1L535.7 250.2L536.5 250.4L537.4 251.2L538.2 252.1L539 253L539.9 253.8L540.7 254.2L541.5 254.7L542.4 255.1L543.2 255.6L544 256L544.9 256.5L545.7 256.9L546.5 257.4L547.4 257.8L547.4 260.1Z" fill="#968000"/>
<path d="M528.2 256.8L529 256.9L529.9 256.9L530.7 257.1L531.5 257.4L532.4 257.4L533.2 257.4L534 257.7L534.9 257.8L535.7 257.8L536.5 257.8L537.4 257.9L538.2 258L539 257.9L539.9 257.9L540.7 258.1L541.5 258.1L542.4 258L543.2 258.1L544 258.3L544.9 258.2L545.7 258.2L546.5 258.3L547.4 258.4" fill="none" stroke="#e08000" stroke-width="1.1" opacity="1.00"/>
<path d="M528.2 253.5L529 253.5L529.9 253.6L530.7 254.2L531.5 254.6L532.4 254.6L533.2 254.8L534 255.4L534.9 255.5L535.7 255.4L536.5 255.5L537.4 255.8L538.2 255.8L539 255.7L539.9 255.9L540.7 256.1L541.5 256L542.4 256L543.2 256.2L544 256.4L544.9 256.3L545.7 256.3" fill="none" stroke="#e08000" stroke-width="1.1" opacity="1.00"/>
<path d="M529 250L529.9 250.6L530.7 251.4L531.5 251.7L532.4 251.7L533.2 252.4L534 253.1L534.9 253.1L535.7 253L536.5 253.4L537.4 253.7L538.2 253.5L539 253.5L539.9 253.9L540.7 254.1L541.5 253.9" fill="none" stroke="#e08000" stroke-width="1.1" opacity="0.78"/>
<path d="M529.9 247.7L530.7 248.6L531.5 248.6L532.4 248.9L533.2 250L534 250.7L534.9 250.5L535.7 250.7L536.5 251.3L537.4 251.4L538.2 251.1" fill="none" stroke="#e08000" stroke-width="1.1" opacity="0.56"/>
<path d="M550.2 260.1L550.2 257.3L551 256.6L551.8 255.8L552.6 255L553.5 254.2L554.3 253.8L555.1 254.2L555.9 254.5L556.8 254.9L557.6 255.2L558.4 255.4L559.2 255L560.1 254.6L560.9 254.2L561.7 253.8L562.5 253.6L563.4 254.2L564.2 254.8L565 255.4L565.8 256L566.7 256.6L567.5 257.2L568.3 257.8L568.3 260.1Z" fill="#968000"/>
<path d="M550.2 257.8L551 257.8L551.8 257.7L552.6 257.8L553.5 257.9L554.3 257.8L555.1 257.8L555.9 257.9L556.8 258L557.6 257.9L558.4 257.8L559.2 258L560.1 258L560.9 257.9L561.7 257.9L562.5 258L563.4 258.1L564.2 258L565 258L565.8 258.1L566.7 258.1L567.5 258L568.3 258.1" fill="none" stroke="#e08000" stroke-width="1.1" opacity="1.00"/>
<path d="M551.8 255.3L552.6 255.6L553.5 255.7L554.3 255.5L555.1 255.5L555.9 255.7L556.8 255.8L557.6 255.6L558.4 255.6L559.2 255.9L560.1 255.8L560.9 255.7L561.7 255.8L562.5 256L563.4 255.9L564.2 255.8L565 256L565.8 256.2L566.7 256" fill="none" stroke="#e08000" stroke-width="1.1" opacity="1.00"/>
<path d="M553.5 253.3L554.3 253.1L555.1 253.3M560.9 253.5L561.7 253.8L562.5 254L563.4 253.7" fill="none" stroke="#e08000" stroke-width="1.1" opacity="0.78"/>
<path d="M613.3 260.1L613.3 254.6L614.3 250.3L615.2 247.5L616.1 247.1L617.1 248L618 250.7L618.9 253.7L618.9 260.1Z" fill="#968000"/>
<path d="M613.3 257.5L614.3 257.4L615.2 257.4L616.1 257.5L617.1 257.5L618 257.4L618.9 257.5" fill="none" stroke="#e08000" stroke-width="1.1" opacity="1.00"/>
<path d="M613.3 254.8L614.3 254.6L615.2 254.8L616.1 255L617.1 254.8L618 254.8L618.9 255.1" fill="none" stroke="#e08000" stroke-width="1.1" opacity="1.00"/>
<path d="M614.3 251.8L615.2 252.3L616.1 252.3L617.1 252L618 252.3" fill="none" stroke="#e08000" stroke-width="1.1" opacity="0.78"/>
<path d="M614.3 249.2L615.2 249.8L616.1 249.5L617.1 249.3L618 249.9" fill="none" stroke="#e08000" stroke-width="1.1" opacity="0.56"/>
<path d="M615.2 247.2L616.1 246.6L617.1 246.7" fill="none" stroke="#e08000" stroke-width="1.1" opacity="0.35"/>
<path d="M621.4 260.1L621.4 253.7L622.2 249.5L623.1 247.9L624 247.4L624.9 248.3L625.7 250.5L626.6 253.7L626.6 260.1Z" fill="#968000"/>
<path d="M621.4 257.4L622.2 257.6L623.1 257.6L624 257.4L624.9 257.5L625.7 257.6L626.6 257.5" fill="none" stroke="#e08000" stroke-width="1.1" opacity="1.00"/>
<path d="M621.4 254.9L622.2 255.1L623.1 254.9L624 254.8L624.9 255L625.7 255.1L626.6 254.8" fill="none" stroke="#e08000" stroke-width="1.1" opacity="1.00"/>
<path d="M622.2 252.6L623.1 252.2L624 252.2L624.9 252.6L625.7 252.4" fill="none" stroke="#e08000" stroke-width="1.1" opacity="0.78"/>
<path d="M622.2 249.9L623.1 249.4L624 249.8L624.9 250.1L625.7 249.6" fill="none" stroke="#e08000" stroke-width="1.1" opacity="0.56"/>
<path d="M623.1 246.8L624 247.5L624.9 247.5" fill="none" stroke="#e08000" stroke-width="1.1" opacity="0.35"/>
<path d="M628.7 260.1L628.7 253.7L629.5 251L630.4 248.4L631.2 247.7L632.1 247.2L632.9 246.8L633.7 246.9L634.6 246.9L635.4 247L636.2 247.1L637.1 247.2L637.9 247.8L638.8 248.7L639.6 249.7L640.4 252.2L641.3 255.5L641.3 260.1Z" fill="#968000"/>
<path d="M628.7 257.6L629.5 257.6L630.4 257.5L631.2 257.5L632.1 257.7L632.9 257.6L633.7 257.5L634.6 257.6L635.4 257.7L636.2 257.6L637.1 257.6L637.9 257.7L638.8 257.8L639.6 257.7L640.4 257.7L641.3 257.8" fill="none" stroke="#e08000" stroke-width="1.1" opacity="1.00"/>
<path d="M628.7 255.1L629.5 254.9L630.4 254.8L631.2 255.1L632.1 255.2L632.9 255L633.7 255L634.6 255.3L635.4 255.3L636.2 255.1L637.1 255.2L637.9 255.4L638.8 255.3L639.6 255.2L640.4 255.4L641.3 255.6" fill="none" stroke="#e08000" stroke-width="1.1" opacity="1.00"/>
<path d="M629.5 252.2L630.4 252.3L631.2 252.7L632.1 252.6L632.9 252.3L633.7 252.6L634.6 252.9L635.4 252.7L636.2 252.5L637.1 252.9L637.9 253.1L638.8 252.8L639.6 252.8L640.4 253.2" fill="none" stroke="#e08000" stroke-width="1.1" opacity="0.78"/>
<path d="M630.4 250L631.2 250.3L632.1 249.9L632.9 249.8L633.7 250.3L634.6 250.5L635.4 250L636.2 250.1L637.1 250.7L637.9 250.6L638.8 250.2L639.6 250.5" fill="none" stroke="#e08000" stroke-width="1.1" opacity="0.56"/>
<path d="M630.4 247.7L631.2 247.6L632.1 247.1L632.9 247.4L633.7 248.1L634.6 247.8L635.4 247.4L636.2 247.9L637.1 248.4L637.9 247.9L638.8 247.7" fill="none" stroke="#e08000" stroke-width="1.1" opacity="0.35"/>
<path d="M636.2 245.8L637.1 245.9" fill="none" stroke="#e08000" stroke-width="1.1" opacity="0.35"/>
<path d="M656.3 260.1L656.3 256L657.2 254.3L658.1 252.7L659 251.1L659.9 252L660.8 253.1L661.7 254.3L662.6 255.5L662.6 260.1Z" fill="#968000"/>
<path d="M656.3 257.6L657.2 257.7L658.1 257.6L659 257.6L659.9 257.7L660.8 257.7L661.7 257.6L662.6 257.6" fill="none" stroke="#e08000" stroke-width="1.1" opacity="1.00"/>
<path d="M657.2 255.3L658.1 255L659 255.1L659.9 255.3L660.8 255.2L661.7 255L662.6 255.2" fill="none" stroke="#e08000" stroke-width="1.1" opacity="1.00"/>
<path d="M658.1 252.4L659 252.7L659.9 252.9L660.8 252.6" fill="none" stroke="#e08000" stroke-width="1.1" opacity="0.78"/>
<path d="M665 260.1L665 254.6L665.9 252.1L666.7 249.5L667.6 248.7L668.5 248.5L669.4 249.2L670.2 250L671.1 252.7L672 255.5L672 260.1Z" fill="#968000"/>
<path d="M665 257.4L665.9 257.5L666.7 257.6L667.6 257.5L668.5 257.4L669.4 257.6L670.2 257.6L671.1 257.4L672 257.5" fill="none" stroke="#e08000" stroke-width="1.1" opacity="1.00"/>
<path d="M665 254.8L665.9 255L666.7 255L667.6 254.8L668.5 254.9L669.4 255.1L670.2 254.9L671.1 254.8L672 255" fill="none" stroke="#e08000" stroke-width="1.1" opacity="1.00"/>
<path d="M665.9 252.6L666.7 252.3L667.6 252.1L668.5 252.4L669.4 252.6L670.2 252.2L671.1 252.2" fill="none" stroke="#e08000" stroke-width="1.1" opacity="0.78"/>
<path d="M666.7 249.5L667.6 249.5L668.5 250.1L669.4 249.9L670.2 249.4" fill="none" stroke="#e08000" stroke-width="1.1" opacity="0.56"/>
<path d="M697.5 260.1L697.5 256.9L698.3 256.8L699.1 256.8L699.9 256.7L700.7 256.6L701.5 256.6L702.3 256.5L703.1 256.4L703.9 256.4L704.7 256.3L705.5 256.2L706.3 256L707.1 255.7L707.9 255.4L708.7 255.1L709.5 254.2L710.3 252.9L711.1 251.6L711.9 250.4L712.7 249.7L713.5 250L714.3 250.4L715.1 252.8L716 256L716 260.1Z" fill="#968000"/>
<path d="M697.5 257.9L698.3 257.9L699.1 257.8L699.9 257.8L700.7 257.9L701.5 257.9L702.3 257.8L703.1 257.7L703.9 257.8L704.7 257.8L705.5 257.7L706.3 257.7L707.1 257.8L707.9 257.8L708.7 257.7L709.5 257.7L710.3 257.8L711.1 257.7L711.9 257.6L712.7 257.6L713.5 257.7L714.3 257.7L715.1 257.6L716 257.6" fill="none" stroke="#e08000" stroke-width="1.1" opacity="1.00"/>
<path d="M706.3 255.4L707.1 255.6L707.9 255.4L708.7 255.2L709.5 255.3L710.3 255.5L711.1 255.3L711.9 255.1L712.7 255.3L713.5 255.4L714.3 255.2L715.1 255" fill="none" stroke="#e08000" stroke-width="1.1" opacity="1.00"/>
<path d="M710.3 253.1L711.1 252.7L711.9 252.7L712.7 253L713.5 252.9L714.3 252.5L715.1 252.6" fill="none" stroke="#e08000" stroke-width="1.1" opacity="0.78"/>
<path d="M711.9 250.4L712.7 250.7L713.5 250.3L714.3 250" fill="none" stroke="#e08000" stroke-width="1.1" opacity="0.56"/>
</g>
</g></svg>
<path d="M454.2 260.1V166.1H733.4" fill="none" stroke="#5e5e6c" stroke-width="1"/>
<path d="M733.4 166.1V260.1H454.2" fill="none" stroke="#383838" stroke-width="1"/>
<path d="M454.2 260.1v-2.5M454.2 166.1v2.5M489.1 260.1v-2.5M489.1 166.1v2.5M524 260.1v-2.5M524 166.1v2.5M558.9 260.1v-2.5M558.9 166.1v2.5M593.8 260.1v-2.5M593.8 166.1v2.5M628.7 260.1v-2.5M628.7 166.1v2.5M663.6 260.1v-2.5M663.6 166.1v2.5M698.5 260.1v-2.5M698.5 166.1v2.5M454.2 260.1h2.5M733.4 260.1h-2.5M454.2 236.6h2.5M733.4 236.6h-2.5M454.2 213.1h2.5M733.4 213.1h-2.5M454.2 189.6h2.5M733.4 189.6h-2.5M454.2 166.1h2.5M733.4 166.1h-2.5" stroke="#222" stroke-width="1" fill="none"/>
<text x="452.7" y="264.7" text-anchor="end">0</text>
<text x="452.7" y="241.2" text-anchor="end">2000</text>
<text x="452.7" y="217.7" text-anchor="end">4000</text>
<text x="452.7" y="194.2" text-anchor="end">6000</text>
<text x="452.7" y="170.7" text-anchor="end">8000</text>
<text x="454.2" y="273.7" text-anchor="middle">0</text>
<text x="524" y="273.7" text-anchor="middle">2</text>
<text x="593.8" y="273.7" text-anchor="middle">4</text>
<text x="663.6" y="273.7" text-anchor="middle">6</text>
<text x="593.8" y="156.9" text-anchor="middle">SDEA</text>
<rect x="740.2" y="166.4" width="18" height="94.3" fill="url(#cbg)" stroke="#6a6a72" stroke-width="1"/>
<text x="759.8" y="174.7">20</text>
<text x="759.8" y="191.4">0</text>
<text x="759.8" y="208">-20</text>
<text x="759.8" y="224.5">-40</text>
<text x="759.8" y="241.1">-60</text>
<text x="759.8" y="257.7">-80</text>
<path d="M758.2 170.1h-2.5M740.2 170.1h2.5M758.2 186.8h-2.5M740.2 186.8h2.5M758.2 203.4h-2.5M740.2 203.4h2.5M758.2 219.9h-2.5M740.2 219.9h2.5M758.2 236.5h-2.5M740.2 236.5h2.5M758.2 253.1h-2.5M740.2 253.1h2.5" stroke="#222" stroke-width="1" fill="none"/>
<svg x="47.2" y="304.4" width="286.7" height="97" viewBox="47.2 304.4 286.7 97" overflow="hidden">
<g filter="url(#f4)"><rect x="47.2" y="304.4" width="286.7" height="97" fill="#8b8000"/>
<path d="M77.1 321.4V336.5" stroke="#a88000" stroke-width="1.7"/>
<path d="M77.1 325V330.5" stroke="#c28000" stroke-width="2.0"/>
<path d="M77.1 343.2V347.4" stroke="#a38000" stroke-width="1.5"/>
<path d="M65.1 318.9H68.7" stroke="#bf8000" stroke-width="1.2"/>
<path d="M262.6 316.5V383.2" stroke="#948000" stroke-width="1.5"/>
<path d="M262.6 321.4V377.1" stroke="#b88000" stroke-width="2.0" stroke-dasharray="1.5 2.6"/>
<path d="M262.6 350.5V352.9" stroke="#d18000" stroke-width="2.0"/>
<path d="M293.8 325.3V327.2" stroke="#cc8000" stroke-width="2.0"/>
<path d="M293.8 345.9V347.8" stroke="#cc8000" stroke-width="2.0"/>
<path d="M293.8 356.8V358.7" stroke="#cc8000" stroke-width="2.0"/>
<path d="M293.8 321.4V333.5" stroke="#b58000" stroke-width="2.2"/>
<path d="M293.8 333.5V365" stroke="#b58000" stroke-width="2.0" stroke-dasharray="1.6 2.4"/>
<ellipse cx="251.7" cy="379.8" rx="2.1" ry="2.3" fill="#c98000"/>
<ellipse cx="251.4" cy="379.1" rx="1.1" ry="1.1" fill="#d18000"/>
<path d="M252.7 381.8L259.2 381.9" stroke="#c48000" stroke-width="1.4"/>
<g filter="url(#bl)">
<path d="M78.7 401.4L78.7 398.1L79.6 396.6L80.4 395.1L81.2 393.6L82 394.3L82.9 395L83.7 395.8L84.5 395.7L85.3 395.5L86.2 395.4L87 394.6L87.8 393.2L88.6 391.7L89.5 390.3L90.3 391.3L91.1 392.3L92 393.3L92.8 394.3L93.6 395.2L94.4 395.8L95.3 396.5L96.1 397.2L96.9 397.9L97.7 398.6L97.7 401.4Z" fill="#9e8000"/>
<path d="M78.7 398.9L79.6 398.8L80.4 398.8L81.2 399L82 399L82.9 398.9L83.7 398.9L84.5 399.1L85.3 399L86.2 399L87 399L87.8 399.1L88.6 399.1L89.5 399L90.3 399.1L91.1 399.2L92 399.1L92.8 399.1L93.6 399.1L94.4 399.2L95.3 399.2L96.1 399.1L96.9 399.2L97.7 399.3" fill="none" stroke="#e68000" stroke-width="1.3" opacity="1.00"/>
<path d="M79.6 396.2L80.4 396.4L81.2 396.6L82 396.5L82.9 396.4L83.7 396.6L84.5 396.8L85.3 396.6L86.2 396.5L87 396.7L87.8 396.9L88.6 396.7L89.5 396.6L90.3 396.9L91.1 397L92 396.8L92.8 396.7L93.6 397L94.4 397L95.3 396.8L96.1 396.9" fill="none" stroke="#e68000" stroke-width="1.3" opacity="1.00"/>
<path d="M81.2 394.1L82 393.8M87 394.5L87.8 394.5L88.6 394.2L89.5 394.4L90.3 394.7L91.1 394.6L92 394.3L92.8 394.6L93.6 394.9" fill="none" stroke="#e68000" stroke-width="1.3" opacity="0.92"/>
<path d="M88.6 391.8L89.5 392.2L90.3 392.5L91.1 392.1" fill="none" stroke="#e68000" stroke-width="1.3" opacity="0.84"/>
<path d="M89.5 390.2L90.3 390.1" fill="none" stroke="#e68000" stroke-width="1.3" opacity="0.76"/>
<path d="M112.8 401.4L112.8 389.1L113.7 386.3L114.5 384.6L115.4 384.9L116.3 385.2L117.2 387.5L118 390L118.9 392.5L119.8 395L120.7 397.5L120.7 401.4Z" fill="#9e8000"/>
<path d="M112.8 398.5L113.7 398.6L114.5 398.6L115.4 398.5L116.3 398.7L117.2 398.8L118 398.7L118.9 398.7L119.8 398.9L120.7 398.9" fill="none" stroke="#e68000" stroke-width="1.3" opacity="1.00"/>
<path d="M112.8 395.7L113.7 395.8L114.5 395.6L115.4 395.7L116.3 396.1L117.2 396.1L118 395.9L118.9 396.1L119.8 396.4" fill="none" stroke="#e68000" stroke-width="1.3" opacity="1.00"/>
<path d="M112.8 392.9L113.7 392.9L114.5 392.6L115.4 393L116.3 393.4L117.2 393.2L118 393.1L118.9 393.6" fill="none" stroke="#e68000" stroke-width="1.3" opacity="0.92"/>
<path d="M112.8 390.2L113.7 389.8L114.5 389.7L115.4 390.5L116.3 390.7L117.2 390.3L118 390.5" fill="none" stroke="#e68000" stroke-width="1.3" opacity="0.84"/>
<path d="M113.7 386.6L114.5 387.1L115.4 387.9L116.3 387.7L117.2 387.4" fill="none" stroke="#e68000" stroke-width="1.3" opacity="0.76"/>
<path d="M114.5 384.6L115.4 385.2L116.3 384.6" fill="none" stroke="#e68000" stroke-width="1.3" opacity="0.68"/>
<path d="M123.2 401.4L123.2 391.4L124 388.5L124.8 385.7L125.6 385.9L126.5 386.7L127.3 387.5L128.1 388.3L128.9 389.1L129.7 389.3L130.6 389.4L131.4 389.5L132.2 390.1L133 391.1L133.9 392.2L134.7 393.2L135.5 393.9L136.3 394.4L137.1 395L138 395.5L138.8 396L139.6 396.5L140.4 397L141.2 397.6L142.1 398.1L142.9 398.6L142.9 401.4Z" fill="#9e8000"/>
<path d="M123.2 398L124 398.1L124.8 398.1L125.6 398.3L126.5 398.5L127.3 398.6L128.1 398.6L128.9 398.8L129.7 399.1L130.6 399L131.4 399L132.2 399.1L133 399.2L133.9 399.2L134.7 399.1L135.5 399.2L136.3 399.4L137.1 399.3L138 399.3L138.8 399.4L139.6 399.5L140.4 399.5L141.2 399.4L142.1 399.6L142.9 399.6" fill="none" stroke="#e68000" stroke-width="1.3" opacity="1.00"/>
<path d="M123.2 394.6L124 394.6L124.8 394.7L125.6 395.3L126.5 395.7L127.3 395.7L128.1 395.9L128.9 396.4L129.7 396.7L130.6 396.6L131.4 396.6L132.2 396.9L133 397L133.9 396.9L134.7 396.9L135.5 397.2L136.3 397.3L137.1 397.1L138 397.2L138.8 397.5L139.6 397.6L140.4 397.4L141.2 397.5L142.1 397.8" fill="none" stroke="#e68000" stroke-width="1.3" opacity="1.00"/>
<path d="M123.2 391.1L124 391L124.8 391.5L125.6 392.4L126.5 392.7L127.3 392.7L128.1 393.2L128.9 394L129.7 394.3L130.6 394L131.4 394.3L132.2 394.7L133 394.7L133.9 394.5L134.7 394.8L135.5 395.1L136.3 395.1L137.1 394.9L138 395.2L138.8 395.6" fill="none" stroke="#e68000" stroke-width="1.3" opacity="0.92"/>
<path d="M124 387.4L124.8 388.5L125.6 389.4L126.5 389.5L127.3 389.7L128.1 390.7L128.9 391.6L129.7 391.6L130.6 391.6L131.4 392.1L132.2 392.5L133 392.2L133.9 392.2L134.7 392.7L135.5 393" fill="none" stroke="#e68000" stroke-width="1.3" opacity="0.84"/>
<path d="M124.8 385.6L125.6 386.3L126.5 386.2L127.3 387L128.1 388.3L128.9 389L129.7 389L130.6 389.3L131.4 390L132.2 390.1" fill="none" stroke="#e68000" stroke-width="1.3" opacity="0.76"/>
<path d="M145.8 401.4L145.8 398.1L146.6 397.1L147.4 396.2L148.2 395.3L149 394.4L149.8 393.6L150.6 394.1L151.4 394.5L152.2 394.9L153 395.3L153.9 395.7L154.7 395.4L155.5 395L156.3 394.5L157.1 394.1L157.9 393.6L158.7 393.7L159.5 394.4L160.3 395.1L161.1 395.8L162 396.5L162.8 397.2L163.6 397.9L164.4 398.6L164.4 401.4Z" fill="#9e8000"/>
<path d="M145.8 399L146.6 399L147.4 398.9L148.2 399L149 399.1L149.8 399.1L150.6 399L151.4 399L152.2 399.2L153 399.2L153.9 399.1L154.7 399.1L155.5 399.2L156.3 399.2L157.1 399.1L157.9 399.2L158.7 399.3L159.5 399.3L160.3 399.2L161.1 399.2L162 399.4L162.8 399.3L163.6 399.3L164.4 399.3" fill="none" stroke="#e68000" stroke-width="1.3" opacity="1.00"/>
<path d="M146.6 396.6L147.4 396.4L148.2 396.7L149 396.8L149.8 396.7L150.6 396.6L151.4 396.8L152.2 397L153 396.8L153.9 396.7L154.7 396.9L155.5 397.1L156.3 396.9L157.1 396.8L157.9 397.1L158.7 397.2L159.5 397L160.3 397L161.1 397.2L162 397.3L162.8 397.2" fill="none" stroke="#e68000" stroke-width="1.3" opacity="1.00"/>
<path d="M148.2 394.5L149 394.5L149.8 394.2L150.6 394.3L151.4 394.7L152.2 394.6M154.7 394.8L155.5 394.8L156.3 394.5L157.1 394.7L157.9 395L158.7 395L159.5 394.7L160.3 394.9L161.1 395.2" fill="none" stroke="#e68000" stroke-width="1.3" opacity="0.92"/>
<path d="M210.6 401.4L210.6 394.7L211.4 390.2L212.3 386.6L213.1 385.3L213.9 386.1L214.7 387.5L215.5 390.5L216.4 393.6L216.4 401.4Z" fill="#9e8000"/>
<path d="M210.6 398.7L211.4 398.6L212.3 398.6L213.1 398.7L213.9 398.8L214.7 398.7L215.5 398.6L216.4 398.8" fill="none" stroke="#e68000" stroke-width="1.3" opacity="1.00"/>
<path d="M210.6 395.9L211.4 395.7L212.3 395.8L213.1 396.1L213.9 396.1L214.7 395.8L215.5 395.9L216.4 396.2" fill="none" stroke="#e68000" stroke-width="1.3" opacity="1.00"/>
<path d="M211.4 392.8L212.3 393.2L213.1 393.5L213.9 393.2L214.7 393L215.5 393.4L216.4 393.7" fill="none" stroke="#e68000" stroke-width="1.3" opacity="0.92"/>
<path d="M211.4 390L212.3 390.6L213.1 390.7L213.9 390.2L214.7 390.3L215.5 390.9" fill="none" stroke="#e68000" stroke-width="1.3" opacity="0.84"/>
<path d="M212.3 388.1L213.1 387.8L213.9 387.3L214.7 387.9" fill="none" stroke="#e68000" stroke-width="1.3" opacity="0.76"/>
<path d="M212.3 385.4L213.1 384.7L213.9 384.6" fill="none" stroke="#e68000" stroke-width="1.3" opacity="0.68"/>
<path d="M218.9 401.4L218.9 393.6L219.8 388.5L220.7 386.6L221.5 386L222.4 387L223.3 389.8L224.2 393.6L224.2 401.4Z" fill="#9e8000"/>
<path d="M218.9 398.7L219.8 398.8L220.7 398.8L221.5 398.7L222.4 398.7L223.3 398.8L224.2 398.7" fill="none" stroke="#e68000" stroke-width="1.3" opacity="1.00"/>
<path d="M218.9 396L219.8 396.2L220.7 396.1L221.5 395.9L222.4 396.1L223.3 396.2L224.2 395.9" fill="none" stroke="#e68000" stroke-width="1.3" opacity="1.00"/>
<path d="M218.9 393.5L219.8 393.6L220.7 393.2L221.5 393.2L222.4 393.6L223.3 393.5L224.2 393.1" fill="none" stroke="#e68000" stroke-width="1.3" opacity="0.92"/>
<path d="M219.8 390.9L220.7 390.4L221.5 390.7L222.4 391.1L223.3 390.6" fill="none" stroke="#e68000" stroke-width="1.3" opacity="0.84"/>
<path d="M219.8 387.9L220.7 387.7L221.5 388.4L222.4 388.4" fill="none" stroke="#e68000" stroke-width="1.3" opacity="0.76"/>
<path d="M220.7 385.2L221.5 385.9" fill="none" stroke="#e68000" stroke-width="1.3" opacity="0.68"/>
<path d="M226.4 401.4L226.4 393.6L227.2 390.6L228 387.6L228.8 386.5L229.6 385.9L230.4 385.4L231.2 385.3L232 385.4L232.8 385.5L233.6 385.6L234.5 385.7L235.3 385.8L236.1 386.7L236.9 387.8L237.7 388.9L238.5 392.1L239.3 395.8L239.3 401.4Z" fill="#9e8000"/>
<path d="M226.4 398.8L227.2 398.8L228 398.7L228.8 398.7L229.6 398.9L230.4 398.9L231.2 398.7L232 398.8L232.8 398.9L233.6 398.9L234.5 398.8L235.3 398.9L236.1 399L236.9 399L237.7 398.9L238.5 398.9L239.3 399" fill="none" stroke="#e68000" stroke-width="1.3" opacity="1.00"/>
<path d="M226.4 396.2L227.2 396.1L228 395.9L228.8 396.2L229.6 396.4L230.4 396.2L231.2 396.1L232 396.3L232.8 396.5L233.6 396.3L234.5 396.2L235.3 396.4L236.1 396.6L236.9 396.4L237.7 396.3L238.5 396.5L239.3 396.7" fill="none" stroke="#e68000" stroke-width="1.3" opacity="1.00"/>
<path d="M226.4 393.6L227.2 393.2L228 393.3L228.8 393.7L229.6 393.8L230.4 393.4L231.2 393.5L232 393.9L232.8 393.9L233.6 393.6L234.5 393.7L235.3 394.1L236.1 394.1L236.9 393.8L237.7 393.9L238.5 394.3" fill="none" stroke="#e68000" stroke-width="1.3" opacity="0.92"/>
<path d="M227.2 390.4L228 390.9L228.8 391.3L229.6 391L230.4 390.7L231.2 391.1L232 391.5L232.8 391.2L233.6 390.9L234.5 391.3L235.3 391.7L236.1 391.5L236.9 391.2L237.7 391.6L238.5 392" fill="none" stroke="#e68000" stroke-width="1.3" opacity="0.84"/>
<path d="M228 388.5L228.8 388.6L229.6 388.1L230.4 388.1L231.2 388.8L232 388.9L232.8 388.4L233.6 388.4L234.5 389.1L235.3 389.2L236.1 388.7L236.9 388.7L237.7 389.4" fill="none" stroke="#e68000" stroke-width="1.3" opacity="0.76"/>
<path d="M228 386.1L228.8 385.8L229.6 385.2L230.4 385.8L231.2 386.5L232 386.1L232.8 385.6L233.6 386.1L234.5 386.8L235.3 386.5L236.1 386L236.9 386.5" fill="none" stroke="#e68000" stroke-width="1.3" opacity="0.68"/>
<path d="M233.6 384L234.5 384.3" fill="none" stroke="#e68000" stroke-width="1.3" opacity="0.60"/>
<path d="M254.7 401.4L254.7 396.4L255.5 394.7L256.3 392.9L257.1 391.2L257.9 390.8L258.7 392.1L259.5 393.3L260.3 394.6L261.1 395.8L261.1 401.4Z" fill="#9e8000"/>
<path d="M254.7 398.8L255.5 398.9L256.3 398.9L257.1 398.8L257.9 398.8L258.7 398.9L259.5 398.9L260.3 398.8L261.1 398.8" fill="none" stroke="#e68000" stroke-width="1.3" opacity="1.00"/>
<path d="M254.7 396.4L255.5 396.5L256.3 396.2L257.1 396.1L257.9 396.4L258.7 396.5L259.5 396.2L260.3 396.1L261.1 396.4" fill="none" stroke="#e68000" stroke-width="1.3" opacity="1.00"/>
<path d="M255.5 393.9L256.3 393.5L257.1 393.6L257.9 394L258.7 393.9L259.5 393.5L260.3 393.6" fill="none" stroke="#e68000" stroke-width="1.3" opacity="0.92"/>
<path d="M257.1 391.3L257.9 391.6L258.7 391.2" fill="none" stroke="#e68000" stroke-width="1.3" opacity="0.84"/>
<path d="M263.7 401.4L263.7 394.7L264.6 391.6L265.5 388.6L266.3 387.5L267.2 387.3L268.1 388.2L269 389.1L269.9 392.5L270.8 395.8L270.8 401.4Z" fill="#9e8000"/>
<path d="M263.7 398.6L264.6 398.7L265.5 398.8L266.3 398.7L267.2 398.7L268.1 398.8L269 398.8L269.9 398.7L270.8 398.7" fill="none" stroke="#e68000" stroke-width="1.3" opacity="1.00"/>
<path d="M263.7 395.9L264.6 396.2L265.5 396.2L266.3 395.9L267.2 396L268.1 396.2L269 396.1L269.9 395.9L270.8 396.1" fill="none" stroke="#e68000" stroke-width="1.3" opacity="1.00"/>
<path d="M264.6 393.7L265.5 393.4L266.3 393.1L267.2 393.5L268.1 393.6L269 393.2L269.9 393.2" fill="none" stroke="#e68000" stroke-width="1.3" opacity="0.92"/>
<path d="M264.6 391.1L265.5 390.5L266.3 390.5L267.2 391.1L268.1 390.9L269 390.4" fill="none" stroke="#e68000" stroke-width="1.3" opacity="0.84"/>
<path d="M265.5 387.6L266.3 388.1L267.2 388.5L268.1 387.9" fill="none" stroke="#e68000" stroke-width="1.3" opacity="0.76"/>
<path d="M297 401.4L297 397.5L297.8 397.4L298.6 397.3L299.5 397.3L300.3 397.2L301.1 397.1L301.9 397L302.8 396.9L303.6 396.9L304.4 396.8L305.2 396.7L306.1 396.4L306.9 396L307.7 395.7L308.5 395.4L309.4 394.2L310.2 392.7L311 391.1L311.9 389.6L312.7 388.7L313.5 389.1L314.3 389.6L315.2 392.5L316 396.4L316 401.4Z" fill="#9e8000"/>
<path d="M297 399.1L297.8 399.2L298.6 399L299.5 399L300.3 399.1L301.1 399.1L301.9 399L302.8 399L303.6 399.1L304.4 399.1L305.2 398.9L306.1 398.9L306.9 399L307.7 399L308.5 398.9L309.4 398.9L310.2 399L311 399L311.9 398.8L312.7 398.9L313.5 399L314.3 398.9L315.2 398.8L316 398.8" fill="none" stroke="#e68000" stroke-width="1.3" opacity="1.00"/>
<path d="M297 396.9L297.8 396.8M299.5 396.7L300.3 396.9L301.1 396.7L301.9 396.5L302.8 396.6L303.6 396.8L304.4 396.6L305.2 396.4L306.1 396.5L306.9 396.7L307.7 396.5L308.5 396.3L309.4 396.5L310.2 396.6L311 396.4L311.9 396.2L312.7 396.4L313.5 396.5L314.3 396.3L315.2 396.2L316 396.4" fill="none" stroke="#e68000" stroke-width="1.3" opacity="1.00"/>
<path d="M309.4 394.2L310.2 394.2L311 393.8L311.9 393.7L312.7 394.1L313.5 394L314.3 393.6L315.2 393.7" fill="none" stroke="#e68000" stroke-width="1.3" opacity="0.92"/>
<path d="M311 391.1L311.9 391.4L312.7 391.7L313.5 391.3L314.3 390.9" fill="none" stroke="#e68000" stroke-width="1.3" opacity="0.84"/>
<path d="M311.9 389.2L312.7 389.2L313.5 388.5L314.3 388.5" fill="none" stroke="#e68000" stroke-width="1.3" opacity="0.76"/>
</g>
</g></svg>
<path d="M47.2 401.4V304.4H333.9" fill="none" stroke="#5e5e6c" stroke-width="1"/>
<path d="M333.9 304.4V401.4H47.2" fill="none" stroke="#383838" stroke-width="1"/>
<path d="M47.2 401.4v-2.5M47.2 304.4v2.5M83 401.4v-2.5M83 304.4v2.5M118.9 401.4v-2.5M118.9 304.4v2.5M154.7 401.4v-2.5M154.7 304.4v2.5M190.6 401.4v-2.5M190.6 304.4v2.5M226.4 401.4v-2.5M226.4 304.4v2.5M262.2 401.4v-2.5M262.2 304.4v2.5M298.1 401.4v-2.5M298.1 304.4v2.5M47.2 401.4h2.5M333.9 401.4h-2.5M47.2 377.1h2.5M333.9 377.1h-2.5M47.2 352.9h2.5M333.9 352.9h-2.5M47.2 328.6h2.5M333.9 328.6h-2.5M47.2 304.4h2.5M333.9 304.4h-2.5" stroke="#222" stroke-width="1" fill="none"/>
<text x="45.7" y="406" text-anchor="end">0</text>
<text x="45.7" y="381.8" text-anchor="end">2000</text>
<text x="45.7" y="357.5" text-anchor="end">4000</text>
<text x="45.7" y="333.2" text-anchor="end">6000</text>
<text x="45.7" y="309" text-anchor="end">8000</text>
<text x="47.2" y="415" text-anchor="middle">0</text>
<text x="118.9" y="415" text-anchor="middle">2</text>
<text x="190.6" y="415" text-anchor="middle">4</text>
<text x="262.2" y="415" text-anchor="middle">6</text>
<text x="190.5" y="295.3" text-anchor="middle">WEDM</text>
<text transform="translate(11,352.9) rotate(-90)" text-anchor="middle">Frequency (Hz)</text>
<text x="190.5" y="428.9" text-anchor="middle">Time (s)</text>
<rect x="341.6" y="304.3" width="20.3" height="96.4" fill="url(#cbg)" stroke="#6a6a72" stroke-width="1"/>
<text x="363.5" y="312.9">20</text>
<text x="363.5" y="332">0</text>
<text x="363.5" y="350.9">-20</text>
<text x="363.5" y="369.6">-40</text>
<text x="363.5" y="388.2">-60</text>
<path d="M361.9 308.3h-2.5M341.6 308.3h2.5M361.9 327.4h-2.5M341.6 327.4h2.5M361.9 346.3h-2.5M341.6 346.3h2.5M361.9 365h-2.5M341.6 365h2.5M361.9 383.6h-2.5M341.6 383.6h2.5" stroke="#222" stroke-width="1" fill="none"/>
<svg x="454.1" y="306.3" width="279.7" height="94.1" viewBox="454.1 306.3 279.7 94.1" overflow="hidden">
<linearGradient id="vg5" x1="0" y1="0" x2="0" y2="1"><stop offset="0" stop-color="#798000"/><stop offset="0.55" stop-color="#798000"/><stop offset="1" stop-color="#878000"/></linearGradient>
<g filter="url(#f5)"><rect x="454.1" y="306.3" width="279.7" height="94.1" fill="url(#vg5)"/>
<path d="M483.3 322.8V337.5" stroke="#c28000" stroke-width="1.7"/>
<path d="M483.3 326.3V331.6" stroke="#db8000" stroke-width="2.0"/>
<path d="M483.3 343.9V348.1" stroke="#bd8000" stroke-width="1.5"/>
<path d="M664.2 318.1V374.5" stroke="#a88000" stroke-width="1.5"/>
<path d="M664.2 322.8V376.9" stroke="#b28000" stroke-width="2.0" stroke-dasharray="1.5 2.6"/>
<path d="M694.6 322.8V334.5" stroke="#de8000" stroke-width="2.2"/>
<path d="M694.6 334.5V365.1" stroke="#cc8000" stroke-width="2.0" stroke-dasharray="1.6 2.4"/>
<ellipse cx="653.7" cy="379.5" rx="2.1" ry="2.3" fill="#d48000"/>
<ellipse cx="653.4" cy="378.9" rx="1.1" ry="1.1" fill="#db8000"/>
<path d="M654.7 381.5L661.2 381.7" stroke="#cf8000" stroke-width="1.4"/>
<g filter="url(#bl)">
<path d="M484.9 400.4L484.9 397.2L485.7 395.7L486.5 394.3L487.3 392.9L488.1 393.5L488.9 394.2L489.7 394.9L490.5 394.8L491.3 394.7L492.1 394.5L492.9 393.8L493.7 392.4L494.5 391L495.3 389.6L496.1 390.6L497 391.6L497.8 392.6L498.6 393.5L499.4 394.3L500.2 395L501 395.7L501.8 396.4L502.6 397L503.4 397.7L503.4 400.4Z" fill="#a38000"/>
<path d="M484.9 398L485.7 397.9L486.5 397.9L487.3 398.1L488.1 398.1L488.9 398L489.7 398L490.5 398.1L491.3 398.1L492.1 398L492.9 398.1L493.7 398.2L494.5 398.2L495.3 398.1L496.1 398.2L497 398.3L497.8 398.2L498.6 398.1L499.4 398.2L500.2 398.3L501 398.2L501.8 398.2L502.6 398.3L503.4 398.4" fill="none" stroke="#e88000" stroke-width="1.35" opacity="1.00"/>
<path d="M485.7 395.3L486.5 395.6L487.3 395.8L488.1 395.6L488.9 395.5L489.7 395.8L490.5 395.9L491.3 395.7L492.1 395.6L492.9 395.9L493.7 396L494.5 395.8L495.3 395.8L496.1 396L497 396.1L497.8 395.9L498.6 395.9L499.4 396.1L500.2 396.2L501 396L501.8 396" fill="none" stroke="#e88000" stroke-width="1.35" opacity="1.00"/>
<path d="M487.3 393.4L488.1 393.1M492.9 393.7L493.7 393.7L494.5 393.4L495.3 393.6L496.1 393.9L497 393.8L497.8 393.6L498.6 393.8L499.4 394.1" fill="none" stroke="#e88000" stroke-width="1.35" opacity="0.95"/>
<path d="M494.5 391.1L495.3 391.5L496.1 391.8L497 391.4" fill="none" stroke="#e88000" stroke-width="1.35" opacity="0.90"/>
<path d="M495.3 389.5L496.1 389.4" fill="none" stroke="#e88000" stroke-width="1.35" opacity="0.85"/>
<path d="M518.1 400.4L518.1 388.5L518.9 385.7L519.8 384.1L520.6 384.4L521.5 384.7L522.4 386.9L523.2 389.3L524.1 391.8L524.9 394.2L525.8 396.6L525.8 400.4Z" fill="#a38000"/>
<path d="M518.1 397.5L518.9 397.7L519.8 397.7L520.6 397.6L521.5 397.8L522.4 397.9L523.2 397.8L524.1 397.8L524.9 397.9L525.8 398" fill="none" stroke="#e88000" stroke-width="1.35" opacity="1.00"/>
<path d="M518.1 394.8L518.9 395L519.8 394.8L520.6 394.9L521.5 395.2L522.4 395.2L523.2 395.1L524.1 395.3L524.9 395.6" fill="none" stroke="#e88000" stroke-width="1.35" opacity="1.00"/>
<path d="M518.1 392.2L518.9 392.2L519.8 391.9L520.6 392.3L521.5 392.7L522.4 392.5L523.2 392.4L524.1 392.9" fill="none" stroke="#e88000" stroke-width="1.35" opacity="0.95"/>
<path d="M518.1 389.5L518.9 389.1L519.8 389.1L520.6 389.8L521.5 390L522.4 389.6L523.2 389.9" fill="none" stroke="#e88000" stroke-width="1.35" opacity="0.90"/>
<path d="M518.9 386.1L519.8 386.5L520.6 387.3L521.5 387.1L522.4 386.8" fill="none" stroke="#e88000" stroke-width="1.35" opacity="0.85"/>
<path d="M519.8 384.1L520.6 384.7L521.5 384.1" fill="none" stroke="#e88000" stroke-width="1.35" opacity="0.80"/>
<path d="M528.2 400.4L528.2 390.7L529 387.9L529.8 385.2L530.6 385.4L531.4 386.1L532.2 386.9L533 387.7L533.8 388.5L534.6 388.6L535.4 388.7L536.2 388.9L537 389.5L537.8 390.4L538.6 391.4L539.4 392.4L540.2 393.1L541 393.6L541.8 394.1L542.6 394.7L543.4 395.2L544.2 395.7L545 396.2L545.8 396.7L546.6 397.2L547.4 397.7L547.4 400.4Z" fill="#a38000"/>
<path d="M528.2 397.1L529 397.2L529.8 397.2L530.6 397.3L531.4 397.6L532.2 397.7L533 397.7L533.8 397.9L534.6 398.1L535.4 398.1L536.2 398L537 398.1L537.8 398.3L538.6 398.2L539.4 398.2L540.2 398.3L541 398.4L541.8 398.4L542.6 398.3L543.4 398.5L544.2 398.6L545 398.5L545.8 398.5L546.6 398.6L547.4 398.7" fill="none" stroke="#e88000" stroke-width="1.35" opacity="1.00"/>
<path d="M528.2 393.8L529 393.8L529.8 393.9L530.6 394.4L531.4 394.8L532.2 394.9L533 395L533.8 395.5L534.6 395.9L535.4 395.7L536.2 395.7L537 396L537.8 396.1L538.6 396L539.4 396L540.2 396.3L541 396.4L541.8 396.3L542.6 396.3L543.4 396.6L544.2 396.7L545 396.6L545.8 396.6L546.6 396.9" fill="none" stroke="#e88000" stroke-width="1.35" opacity="1.00"/>
<path d="M528.2 390.4L529 390.3L529.8 390.8L530.6 391.6L531.4 391.9L532.2 391.9L533 392.5L533.8 393.2L534.6 393.5L535.4 393.2L536.2 393.5L537 393.9L537.8 393.9L538.6 393.7L539.4 394L540.2 394.3L541 394.3L541.8 394.1L542.6 394.4L543.4 394.8" fill="none" stroke="#e88000" stroke-width="1.35" opacity="0.95"/>
<path d="M529 386.8L529.8 387.9L530.6 388.8L531.4 388.9L532.2 389.1L533 390.1L533.8 390.9L534.6 390.9L535.4 390.8L536.2 391.4L537 391.7L537.8 391.5L538.6 391.5L539.4 392L540.2 392.3" fill="none" stroke="#e88000" stroke-width="1.35" opacity="0.90"/>
<path d="M529.8 385.1L530.6 385.7L531.4 385.7L532.2 386.4L533 387.7L533.8 388.3L534.6 388.3L535.4 388.6L536.2 389.4L537 389.4" fill="none" stroke="#e88000" stroke-width="1.35" opacity="0.85"/>
<path d="M550.2 400.4L550.2 397.2L551.1 396.2L551.9 395.3L552.7 394.4L553.6 393.4L554.4 393L555.2 393.4L556 393.8L556.9 394.3L557.7 394.7L558.5 394.9L559.3 394.4L560.2 393.9L561 393.5L561.8 393L562.6 392.7L563.5 393.5L564.3 394.2L565.1 394.9L565.9 395.6L566.8 396.3L567.6 397L568.4 397.7L568.4 400.4Z" fill="#a38000"/>
<path d="M550.2 398.1L551.1 398.1L551.9 398L552.7 398.1L553.6 398.2L554.4 398.1L555.2 398.1L556 398.2L556.9 398.3L557.7 398.2L558.5 398.1L559.3 398.3L560.2 398.3L561 398.2L561.8 398.2L562.6 398.3L563.5 398.4L564.3 398.3L565.1 398.3L565.9 398.4L566.8 398.4L567.6 398.3L568.4 398.4" fill="none" stroke="#e88000" stroke-width="1.35" opacity="1.00"/>
<path d="M551.1 395.7L551.9 395.6L552.7 395.9L553.6 396L554.4 395.8L555.2 395.8L556 396L556.9 396.1L557.7 395.9L558.5 395.9L559.3 396.2L560.2 396.1L561 396L561.8 396.1L562.6 396.3L563.5 396.2L564.3 396.1L565.1 396.3L565.9 396.4L566.8 396.3" fill="none" stroke="#e88000" stroke-width="1.35" opacity="1.00"/>
<path d="M552.7 393.7L553.6 393.6L554.4 393.4L555.2 393.6L556 393.9L556.9 393.7M559.3 394.1L560.2 393.9L561 393.8L561.8 394.1L562.6 394.3L563.5 394L564.3 394L565.1 394.4" fill="none" stroke="#e88000" stroke-width="1.35" opacity="0.95"/>
<path d="M561.8 392.2L562.6 392.1" fill="none" stroke="#e88000" stroke-width="1.35" opacity="0.90"/>
<path d="M613.5 400.4L613.5 393.9L614.5 388.9L615.4 385.6L616.3 385.1L617.3 386.2L618.2 389.4L619.1 392.8L619.1 400.4Z" fill="#a38000"/>
<path d="M613.5 397.8L614.5 397.7L615.4 397.7L616.3 397.8L617.3 397.8L618.2 397.7L619.1 397.8" fill="none" stroke="#e88000" stroke-width="1.35" opacity="1.00"/>
<path d="M613.5 395.1L614.5 394.9L615.4 395L616.3 395.3L617.3 395.1L618.2 395.1L619.1 395.4" fill="none" stroke="#e88000" stroke-width="1.35" opacity="1.00"/>
<path d="M614.5 392.1L615.4 392.6L616.3 392.6L617.3 392.3L618.2 392.5L619.1 392.9" fill="none" stroke="#e88000" stroke-width="1.35" opacity="0.95"/>
<path d="M614.5 389.5L615.4 390.1L616.3 389.8L617.3 389.5L618.2 390.2" fill="none" stroke="#e88000" stroke-width="1.35" opacity="0.90"/>
<path d="M615.4 387.5L616.3 386.9L617.3 387" fill="none" stroke="#e88000" stroke-width="1.35" opacity="0.85"/>
<path d="M615.4 384.6L616.3 384L617.3 384.7" fill="none" stroke="#e88000" stroke-width="1.35" opacity="0.80"/>
<path d="M621.6 400.4L621.6 392.8L622.4 387.9L623.3 386.1L624.2 385.5L625.1 386.5L625.9 389.1L626.8 392.8L626.8 400.4Z" fill="#a38000"/>
<path d="M621.6 397.7L622.4 397.9L623.3 397.9L624.2 397.7L625.1 397.8L625.9 397.9L626.8 397.8" fill="none" stroke="#e88000" stroke-width="1.35" opacity="1.00"/>
<path d="M621.6 395.2L622.4 395.4L623.3 395.2L624.2 395L625.1 395.3L625.9 395.4L626.8 395.1" fill="none" stroke="#e88000" stroke-width="1.35" opacity="1.00"/>
<path d="M621.6 392.7L622.4 392.9L623.3 392.5L624.2 392.5L625.1 392.9L625.9 392.7L626.8 392.4" fill="none" stroke="#e88000" stroke-width="1.35" opacity="0.95"/>
<path d="M622.4 390.2L623.3 389.7L624.2 390.1L625.1 390.4L625.9 389.9" fill="none" stroke="#e88000" stroke-width="1.35" opacity="0.90"/>
<path d="M622.4 387.3L623.3 387.1L624.2 387.8L625.1 387.7" fill="none" stroke="#e88000" stroke-width="1.35" opacity="0.85"/>
<path d="M623.3 384.7L624.2 385.4" fill="none" stroke="#e88000" stroke-width="1.35" opacity="0.80"/>
<path d="M628.9 400.4L628.9 392.8L629.8 389.7L630.6 386.6L631.4 385.8L632.3 385.3L633.1 384.7L633.9 384.8L634.8 384.9L635.6 385L636.5 385.1L637.3 385.2L638.1 385.9L639 387L639.8 388.1L640.7 391.1L641.5 395L641.5 400.4Z" fill="#a38000"/>
<path d="M628.9 397.9L629.8 397.9L630.6 397.8L631.4 397.8L632.3 398L633.1 397.9L633.9 397.8L634.8 397.9L635.6 398L636.5 397.9L637.3 397.9L638.1 398L639 398.1L639.8 398L640.7 398L641.5 398.1" fill="none" stroke="#e88000" stroke-width="1.35" opacity="1.00"/>
<path d="M628.9 395.4L629.8 395.2L630.6 395.1L631.4 395.4L632.3 395.5L633.1 395.3L633.9 395.3L634.8 395.6L635.6 395.6L636.5 395.4L637.3 395.5L638.1 395.7L639 395.6L639.8 395.5L640.7 395.7L641.5 395.9" fill="none" stroke="#e88000" stroke-width="1.35" opacity="1.00"/>
<path d="M628.9 392.8L629.8 392.5L630.6 392.6L631.4 393L632.3 392.9L633.1 392.6L633.9 392.9L634.8 393.2L635.6 393L636.5 392.8L637.3 393.2L638.1 393.4L639 393.1L639.8 393.1L640.7 393.5" fill="none" stroke="#e88000" stroke-width="1.35" opacity="0.95"/>
<path d="M629.8 389.8L630.6 390.3L631.4 390.6L632.3 390.2L633.1 390.1L633.9 390.6L634.8 390.7L635.6 390.3L636.5 390.4L637.3 391L638.1 390.9L639 390.5L639.8 390.8L640.7 391.3" fill="none" stroke="#e88000" stroke-width="1.35" opacity="0.90"/>
<path d="M630.6 388L631.4 387.9L632.3 387.4L633.1 387.7L633.9 388.4L634.8 388.1L635.6 387.7L636.5 388.2L637.3 388.7L638.1 388.2L639 388L639.8 388.7" fill="none" stroke="#e88000" stroke-width="1.35" opacity="0.85"/>
<path d="M630.6 385.6L631.4 385.1L632.3 384.7L633.1 385.5L633.9 385.9L634.8 385.3L635.6 385.2L636.5 386.1L637.3 386.1L638.1 385.5L639 385.8" fill="none" stroke="#e88000" stroke-width="1.35" opacity="0.80"/>
<path d="M633.1 383.4L633.9 383.2" fill="none" stroke="#e88000" stroke-width="1.35" opacity="0.75"/>
<path d="M656.5 400.4L656.5 395.5L657.4 393.6L658.3 391.7L659.2 389.8L660.1 390.8L661 392.2L661.9 393.6L662.8 395L662.8 400.4Z" fill="#a38000"/>
<path d="M656.5 397.9L657.4 398L658.3 397.9L659.2 397.8L660.1 398L661 398L661.9 397.9L662.8 397.9" fill="none" stroke="#e88000" stroke-width="1.35" opacity="1.00"/>
<path d="M656.5 395.5L657.4 395.6L658.3 395.3L659.2 395.4L660.1 395.6L661 395.5L661.9 395.3L662.8 395.5" fill="none" stroke="#e88000" stroke-width="1.35" opacity="1.00"/>
<path d="M657.4 393.1L658.3 392.7L659.2 393L660.1 393.2L661 392.8L661.9 392.8" fill="none" stroke="#e88000" stroke-width="1.35" opacity="0.95"/>
<path d="M659.2 390.8L660.1 390.7" fill="none" stroke="#e88000" stroke-width="1.35" opacity="0.90"/>
<path d="M665.3 400.4L665.3 393.9L666.1 390.9L667 388L667.9 386.9L668.8 386.7L669.6 387.6L670.5 388.5L671.4 391.7L672.3 395L672.3 400.4Z" fill="#a38000"/>
<path d="M665.3 397.7L666.1 397.8L667 397.9L667.9 397.8L668.8 397.7L669.6 397.9L670.5 397.9L671.4 397.7L672.3 397.8" fill="none" stroke="#e88000" stroke-width="1.35" opacity="1.00"/>
<path d="M665.3 395.1L666.1 395.3L667 395.3L667.9 395.1L668.8 395.2L669.6 395.4L670.5 395.2L671.4 395L672.3 395.3" fill="none" stroke="#e88000" stroke-width="1.35" opacity="1.00"/>
<path d="M666.1 392.9L667 392.6L667.9 392.4L668.8 392.7L669.6 392.9L670.5 392.5L671.4 392.5" fill="none" stroke="#e88000" stroke-width="1.35" opacity="0.95"/>
<path d="M666.1 390.4L667 389.8L667.9 389.8L668.8 390.4L669.6 390.2L670.5 389.7" fill="none" stroke="#e88000" stroke-width="1.35" opacity="0.90"/>
<path d="M667 387L667.9 387.5L668.8 387.9L669.6 387.3" fill="none" stroke="#e88000" stroke-width="1.35" opacity="0.85"/>
<path d="M697.8 400.4L697.8 396.6L698.6 396.5L699.4 396.5L700.2 396.4L701 396.3L701.8 396.2L702.6 396.2L703.4 396.1L704.2 396L705 395.9L705.8 395.8L706.7 395.5L707.5 395.2L708.3 394.9L709.1 394.6L709.9 393.4L710.7 391.9L711.5 390.4L712.3 388.9L713.1 388.1L713.9 388.5L714.7 388.9L715.5 391.8L716.3 395.5L716.3 400.4Z" fill="#a38000"/>
<path d="M697.8 398.2L698.6 398.2L699.4 398.1L700.2 398.1L701 398.2L701.8 398.2L702.6 398.1L703.4 398L704.2 398.1L705 398.1L705.8 398L706.7 398L707.5 398.1L708.3 398.1L709.1 398L709.9 398L710.7 398.1L711.5 398L712.3 397.9L713.1 397.9L713.9 398L714.7 398L715.5 397.9L716.3 397.9" fill="none" stroke="#e88000" stroke-width="1.35" opacity="1.00"/>
<path d="M697.8 396.1L698.6 396M700.2 395.8L701 396L701.8 395.9L702.6 395.7L703.4 395.7L704.2 395.9L705 395.8L705.8 395.6L706.7 395.7L707.5 395.8L708.3 395.7L709.1 395.5L709.9 395.6L710.7 395.8L711.5 395.6L712.3 395.4L713.1 395.6L713.9 395.7L714.7 395.5L715.5 395.3L716.3 395.5" fill="none" stroke="#e88000" stroke-width="1.35" opacity="1.00"/>
<path d="M709.9 393.4L710.7 393.4L711.5 393L712.3 393L713.1 393.3L713.9 393.2L714.7 392.8L715.5 392.9" fill="none" stroke="#e88000" stroke-width="1.35" opacity="0.95"/>
<path d="M711.5 390.4L712.3 390.7L713.1 391L713.9 390.6L714.7 390.3" fill="none" stroke="#e88000" stroke-width="1.35" opacity="0.90"/>
<path d="M712.3 388.6L713.1 388.6L713.9 387.9L714.7 387.9" fill="none" stroke="#e88000" stroke-width="1.35" opacity="0.85"/>
</g>
</g></svg>
<path d="M454.1 400.4V306.3H733.8" fill="none" stroke="#5e5e6c" stroke-width="1"/>
<path d="M733.8 306.3V400.4H454.1" fill="none" stroke="#383838" stroke-width="1"/>
<path d="M454.1 400.4v-2.5M454.1 306.3v2.5M489.1 400.4v-2.5M489.1 306.3v2.5M524 400.4v-2.5M524 306.3v2.5M559 400.4v-2.5M559 306.3v2.5M594 400.4v-2.5M594 306.3v2.5M628.9 400.4v-2.5M628.9 306.3v2.5M663.9 400.4v-2.5M663.9 306.3v2.5M698.8 400.4v-2.5M698.8 306.3v2.5M454.1 400.4h2.5M733.8 400.4h-2.5M454.1 376.9h2.5M733.8 376.9h-2.5M454.1 353.4h2.5M733.8 353.4h-2.5M454.1 329.8h2.5M733.8 329.8h-2.5M454.1 306.3h2.5M733.8 306.3h-2.5" stroke="#222" stroke-width="1" fill="none"/>
<text x="452.6" y="405" text-anchor="end">0</text>
<text x="452.6" y="381.5" text-anchor="end">2000</text>
<text x="452.6" y="358" text-anchor="end">4000</text>
<text x="452.6" y="334.4" text-anchor="end">6000</text>
<text x="452.6" y="310.9" text-anchor="end">8000</text>
<text x="454.1" y="414" text-anchor="middle">0</text>
<text x="524" y="414" text-anchor="middle">2</text>
<text x="594" y="414" text-anchor="middle">4</text>
<text x="663.9" y="414" text-anchor="middle">6</text>
<text x="594" y="297.3" text-anchor="middle">BDSAE</text>
<text x="594" y="427.9" text-anchor="middle">Time (s)</text>
<rect x="740.7" y="306.4" width="18.5" height="94.3" fill="url(#cbg)" stroke="#6a6a72" stroke-width="1"/>
<text x="760.8" y="316.1">20</text>
<text x="760.8" y="333.2">0</text>
<text x="760.8" y="351.3">-20</text>
<text x="760.8" y="369">-40</text>
<text x="760.8" y="385.9">-60</text>
<text x="760.8" y="401.8">-80</text>
<path d="M759.2 311.5h-2.5M740.7 311.5h2.5M759.2 328.6h-2.5M740.7 328.6h2.5M759.2 346.7h-2.5M740.7 346.7h2.5M759.2 364.4h-2.5M740.7 364.4h2.5M759.2 381.3h-2.5M740.7 381.3h2.5M759.2 397.2h-2.5M740.7 397.2h2.5" stroke="#222" stroke-width="1" fill="none"/>
</svg></body></html>
